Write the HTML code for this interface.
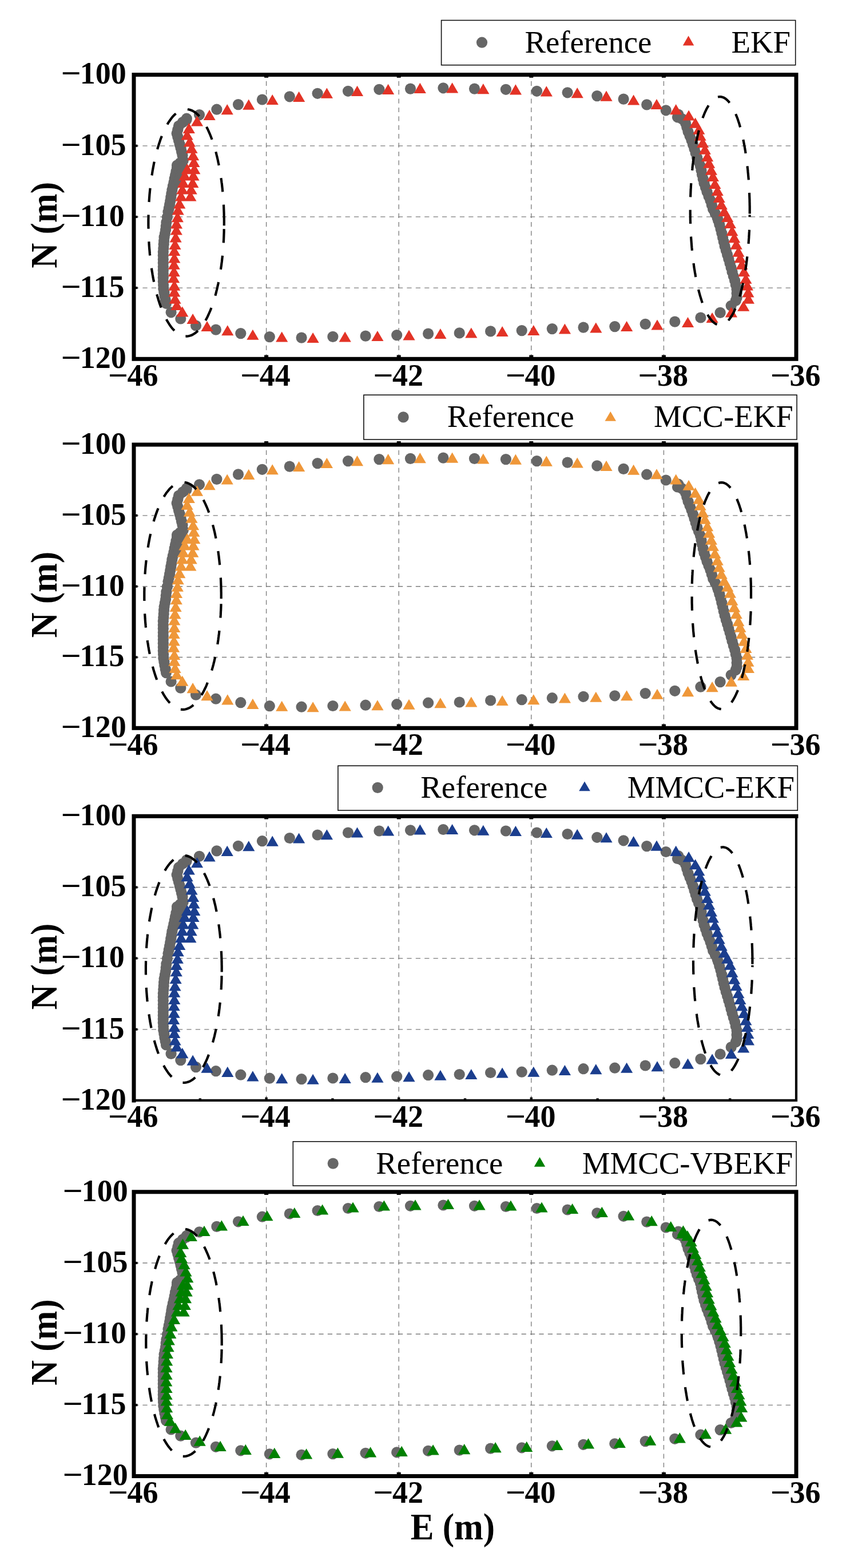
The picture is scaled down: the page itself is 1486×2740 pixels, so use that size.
<!DOCTYPE html>
<html><head><meta charset="utf-8"><title>Trajectory comparison</title><style>html,body{margin:0;padding:0;background:#fff;}svg{display:block;}</style></head><body>
<svg width="1486" height="2740" viewBox="0 0 1486 2740">
<rect width="1486" height="2740" fill="#fff"/>
<path d="M465.6 627.3V130.6M697.2 627.3V130.6M928.8 627.3V130.6M1160.4 627.3V130.6" stroke="#7d7d7d" stroke-width="1.35" stroke-dasharray="8.2 7.2" fill="none"/>
<path d="M234.0 254.8H1392.0M234.0 378.9H1392.0M234.0 503.1H1392.0" stroke="#7d7d7d" stroke-width="1.35" stroke-dasharray="8.2 7.2" fill="none"/>
<g fill="#666666"><circle cx="325.8" cy="209.8" r="9.6"/><circle cx="348.5" cy="200.6" r="9.6"/><circle cx="378.9" cy="191.2" r="9.6"/><circle cx="416.5" cy="182.6" r="9.6"/><circle cx="458.4" cy="174.0" r="9.6"/><circle cx="506.3" cy="168.8" r="9.6"/><circle cx="555.1" cy="163.3" r="9.6"/><circle cx="608.5" cy="159.3" r="9.6"/><circle cx="662.9" cy="156.3" r="9.6"/><circle cx="717.5" cy="155.1" r="9.6"/><circle cx="774.9" cy="153.8" r="9.6"/><circle cx="829.5" cy="155.1" r="9.6"/><circle cx="884.4" cy="156.3" r="9.6"/><circle cx="938.5" cy="159.3" r="9.6"/><circle cx="992.1" cy="161.8" r="9.6"/><circle cx="1043.8" cy="167.6" r="9.6"/><circle cx="1090.1" cy="173.1" r="9.6"/><circle cx="1130.7" cy="182.9" r="9.6"/><circle cx="1164.2" cy="192.8" r="9.6"/><circle cx="1184.5" cy="204.8" r="9.6"/><circle cx="1185.9" cy="200.0" r="9.6"/><circle cx="1192.2" cy="207.6" r="9.6"/><circle cx="1198.5" cy="215.1" r="9.6"/><circle cx="1200.8" cy="222.6" r="9.6"/><circle cx="1203.0" cy="230.1" r="9.6"/><circle cx="1206.0" cy="237.6" r="9.6"/><circle cx="1209.0" cy="245.1" r="9.6"/><circle cx="1211.5" cy="252.6" r="9.6"/><circle cx="1214.0" cy="260.2" r="9.6"/><circle cx="1216.2" cy="267.7" r="9.6"/><circle cx="1218.5" cy="275.2" r="9.6"/><circle cx="1221.5" cy="282.7" r="9.6"/><circle cx="1224.5" cy="290.2" r="9.6"/><circle cx="1226.0" cy="297.8" r="9.6"/><circle cx="1227.5" cy="305.3" r="9.6"/><circle cx="1229.2" cy="312.8" r="9.6"/><circle cx="1231.0" cy="320.3" r="9.6"/><circle cx="1233.5" cy="327.8" r="9.6"/><circle cx="1236.0" cy="335.3" r="9.6"/><circle cx="1239.0" cy="342.9" r="9.6"/><circle cx="1242.0" cy="350.4" r="9.6"/><circle cx="1244.3" cy="357.9" r="9.6"/><circle cx="1246.6" cy="365.4" r="9.6"/><circle cx="1250.3" cy="372.9" r="9.6"/><circle cx="1254.1" cy="380.4" r="9.6"/><circle cx="1255.5" cy="385.0" r="9.6"/><circle cx="1257.8" cy="392.5" r="9.6"/><circle cx="1260.0" cy="400.0" r="9.6"/><circle cx="1261.8" cy="407.6" r="9.6"/><circle cx="1263.6" cy="415.1" r="9.6"/><circle cx="1265.3" cy="422.6" r="9.6"/><circle cx="1267.1" cy="430.1" r="9.6"/><circle cx="1269.3" cy="437.6" r="9.6"/><circle cx="1271.6" cy="445.1" r="9.6"/><circle cx="1273.8" cy="452.6" r="9.6"/><circle cx="1276.1" cy="460.2" r="9.6"/><circle cx="1278.1" cy="467.7" r="9.6"/><circle cx="1280.1" cy="475.2" r="9.6"/><circle cx="1282.3" cy="482.7" r="9.6"/><circle cx="1284.6" cy="490.2" r="9.6"/><circle cx="1286.3" cy="497.8" r="9.6"/><circle cx="1288.1" cy="505.3" r="9.6"/><circle cx="1288.1" cy="512.8" r="9.6"/><circle cx="1288.1" cy="520.3" r="9.6"/><circle cx="1286.3" cy="525.3" r="9.6"/><circle cx="1278.2" cy="534.3" r="9.6"/><circle cx="1259.1" cy="546.4" r="9.6"/><circle cx="1224.9" cy="555.0" r="9.6"/><circle cx="1179.8" cy="562.1" r="9.6"/><circle cx="1128.2" cy="566.4" r="9.6"/><circle cx="1074.8" cy="570.6" r="9.6"/><circle cx="1020.0" cy="572.1" r="9.6"/><circle cx="965.3" cy="574.6" r="9.6"/><circle cx="912.2" cy="577.6" r="9.6"/><circle cx="857.6" cy="578.9" r="9.6"/><circle cx="803.2" cy="581.9" r="9.6"/><circle cx="748.6" cy="583.1" r="9.6"/><circle cx="693.7" cy="585.6" r="9.6"/><circle cx="639.1" cy="587.1" r="9.6"/><circle cx="581.9" cy="588.4" r="9.6"/><circle cx="527.1" cy="590.1" r="9.6"/><circle cx="471.3" cy="588.6" r="9.6"/><circle cx="420.8" cy="582.6" r="9.6"/><circle cx="377.4" cy="576.1" r="9.6"/><circle cx="342.5" cy="569.0" r="9.6"/><circle cx="315.8" cy="557.0" r="9.6"/><circle cx="299.1" cy="545.8" r="9.6"/><circle cx="290.5" cy="530.3" r="9.6"/><circle cx="289.2" cy="523.9" r="9.6"/><circle cx="287.9" cy="517.5" r="9.6"/><circle cx="286.9" cy="511.1" r="9.6"/><circle cx="285.8" cy="504.6" r="9.6"/><circle cx="285.6" cy="498.1" r="9.6"/><circle cx="285.3" cy="491.7" r="9.6"/><circle cx="285.3" cy="485.2" r="9.6"/><circle cx="285.3" cy="478.8" r="9.6"/><circle cx="285.3" cy="472.4" r="9.6"/><circle cx="285.3" cy="466.0" r="9.6"/><circle cx="285.3" cy="459.5" r="9.6"/><circle cx="285.3" cy="453.0" r="9.6"/><circle cx="285.3" cy="446.6" r="9.6"/><circle cx="285.3" cy="440.1" r="9.6"/><circle cx="285.8" cy="433.7" r="9.6"/><circle cx="286.2" cy="427.3" r="9.6"/><circle cx="286.6" cy="420.9" r="9.6"/><circle cx="287.1" cy="414.4" r="9.6"/><circle cx="288.4" cy="408.0" r="9.6"/><circle cx="289.6" cy="401.5" r="9.6"/><circle cx="290.2" cy="395.1" r="9.6"/><circle cx="290.9" cy="388.6" r="9.6"/><circle cx="292.4" cy="379.5" r="9.6"/><circle cx="294.0" cy="370.4" r="9.6"/><circle cx="295.3" cy="363.9" r="9.6"/><circle cx="296.6" cy="357.5" r="9.6"/><circle cx="297.7" cy="351.1" r="9.6"/><circle cx="298.8" cy="344.6" r="9.6"/><circle cx="299.9" cy="338.2" r="9.6"/><circle cx="300.9" cy="331.8" r="9.6"/><circle cx="302.4" cy="325.4" r="9.6"/><circle cx="303.9" cy="318.9" r="9.6"/><circle cx="305.2" cy="312.4" r="9.6"/><circle cx="306.5" cy="306.0" r="9.6"/><circle cx="308.0" cy="299.5" r="9.6"/><circle cx="309.5" cy="293.0" r="9.6"/><circle cx="309.5" cy="288.8" r="9.6"/><circle cx="314.9" cy="284.5" r="9.6"/><circle cx="320.3" cy="280.2" r="9.6"/><circle cx="319.0" cy="271.6" r="9.6"/><circle cx="317.5" cy="265.1" r="9.6"/><circle cx="316.0" cy="258.7" r="9.6"/><circle cx="314.2" cy="252.2" r="9.6"/><circle cx="312.5" cy="245.8" r="9.6"/><circle cx="310.8" cy="239.4" r="9.6"/><circle cx="309.1" cy="233.0" r="9.6"/><circle cx="310.8" cy="226.5" r="9.6"/><circle cx="312.5" cy="220.0" r="9.6"/><circle cx="319.4" cy="213.6" r="9.6"/><circle cx="326.3" cy="207.2" r="9.6"/><circle cx="319.5" cy="292.0" r="9.6"/><circle cx="318.0" cy="298.0" r="9.6"/><circle cx="316.5" cy="304.0" r="9.6"/><circle cx="314.8" cy="310.0" r="9.6"/><circle cx="313.0" cy="316.0" r="9.6"/></g>
<path d="M333.9 220.6L344.5 202.4L355.1 220.6ZM355.5 210.0L366.1 191.8L376.7 210.0ZM386.6 200.2L397.2 182.1L407.8 200.2ZM424.2 191.7L434.8 173.5L445.4 191.7ZM465.6 183.1L476.2 164.9L486.8 183.1ZM512.0 177.9L522.6 159.8L533.2 177.9ZM560.8 171.7L571.4 153.5L582.0 171.7ZM613.9 167.9L624.5 149.8L635.1 167.9ZM668.0 164.9L678.6 146.8L689.2 164.9ZM723.7 162.9L734.3 144.8L744.9 162.9ZM780.0 162.4L790.6 144.2L801.2 162.4ZM834.2 164.2L844.8 146.0L855.4 164.2ZM890.8 165.4L901.4 147.2L912.0 165.4ZM944.7 168.4L955.3 150.2L965.9 168.4ZM998.6 171.2L1009.2 153.0L1019.8 171.2ZM1049.4 176.7L1060.0 158.5L1070.6 176.7ZM1097.0 183.6L1107.6 165.4L1118.2 183.6ZM1137.4 191.1L1148.0 172.9L1158.6 191.1ZM1171.1 200.2L1181.7 182.1L1192.3 200.2ZM1193.5 210.6L1204.1 192.4L1214.7 210.6ZM1205.0 223.7L1215.6 205.5L1226.2 223.7ZM1211.2 234.7L1221.8 216.5L1232.4 234.7ZM1213.5 245.7L1224.1 227.5L1234.7 245.7ZM1218.0 258.1L1228.6 240.0L1239.2 258.1ZM1221.7 269.8L1232.3 251.6L1242.9 269.8ZM1226.0 282.2L1236.6 264.1L1247.2 282.2ZM1229.0 293.8L1239.6 275.6L1250.2 293.8ZM1232.8 305.8L1243.4 287.6L1254.0 305.8ZM1235.8 316.9L1246.4 298.8L1257.0 316.9ZM1239.3 329.9L1249.9 311.8L1260.5 329.9ZM1243.6 341.9L1254.2 323.8L1264.8 341.9ZM1246.6 353.9L1257.2 335.8L1267.8 353.9ZM1250.6 365.9L1261.2 347.8L1271.8 365.9ZM1255.6 377.9L1266.2 359.8L1276.8 377.9ZM1261.1 388.1L1271.7 369.9L1282.3 388.1ZM1265.8 399.1L1276.4 380.9L1287.0 399.1ZM1269.3 412.2L1279.9 394.1L1290.5 412.2ZM1273.1 424.2L1283.7 406.1L1294.3 424.2ZM1276.6 435.7L1287.2 417.6L1297.8 435.7ZM1280.3 448.7L1290.9 430.6L1301.5 448.7ZM1283.3 459.3L1293.9 441.2L1304.5 459.3ZM1286.3 470.8L1296.9 452.7L1307.5 470.8ZM1290.1 483.3L1300.7 465.2L1311.3 483.3ZM1293.3 495.8L1303.9 477.7L1314.5 495.8ZM1295.8 507.4L1306.4 489.3L1317.0 507.4ZM1297.3 519.4L1307.9 501.3L1318.5 519.4ZM1297.8 530.8L1308.4 512.8L1319.0 530.8ZM1289.1 543.8L1299.7 525.8L1310.3 543.8ZM1267.8 554.4L1278.4 536.4L1289.0 554.4ZM1234.5 563.9L1245.1 545.9L1255.7 563.9ZM1191.9 572.0L1202.5 554.0L1213.1 572.0ZM1138.4 576.6L1149.0 558.6L1159.6 576.6ZM1085.0 579.1L1095.6 561.1L1106.2 579.1ZM1031.2 581.6L1041.8 563.6L1052.4 581.6ZM976.8 583.4L987.4 565.4L998.0 583.4ZM922.2 586.1L932.8 568.1L943.4 586.1ZM867.5 587.9L878.1 569.9L888.7 587.9ZM813.2 590.4L823.8 572.4L834.4 590.4ZM759.3 592.1L769.9 574.1L780.5 592.1ZM704.4 594.6L715.0 576.6L725.6 594.6ZM649.3 596.1L659.9 578.1L670.5 596.1ZM592.6 597.4L603.2 579.4L613.8 597.4ZM536.5 599.1L547.1 581.1L557.7 599.1ZM482.1 597.6L492.7 579.6L503.3 597.6ZM431.3 593.8L441.9 575.7L452.5 593.8ZM387.2 586.2L397.8 568.2L408.4 586.2ZM351.4 579.0L362.0 561.0L372.6 579.0ZM326.5 566.0L337.1 548.0L347.7 566.0ZM308.2 553.5L318.8 535.5L329.4 553.5ZM298.4 541.9L309.0 523.9L319.6 541.9ZM295.5 530.8L306.1 512.8L316.7 530.8ZM294.2 518.4L304.8 500.3L315.4 518.4ZM294.2 507.7L304.8 489.6L315.4 507.7ZM293.0 494.3L303.6 476.2L314.2 494.3ZM293.6 483.2L304.2 465.1L314.8 483.2ZM293.6 470.7L304.2 452.6L314.8 470.7ZM294.2 459.4L304.8 441.3L315.4 459.4ZM294.2 447.1L304.8 428.9L315.4 447.1ZM295.4 435.9L306.0 417.8L316.6 435.9ZM296.5 423.4L307.1 405.3L317.7 423.4ZM297.7 410.6L308.3 392.4L318.9 410.6ZM297.9 399.4L308.5 381.3L319.1 399.4ZM299.7 388.2L310.3 370.1L320.9 388.2ZM300.6 375.6L311.2 357.4L321.8 375.6ZM303.2 364.4L313.8 346.3L324.4 364.4ZM306.0 351.6L316.6 333.4L327.2 351.6ZM308.1 339.6L318.7 321.4L329.3 339.6ZM309.8 327.9L320.4 309.8L331.0 327.9ZM312.4 315.4L323.0 297.3L333.6 315.4ZM316.7 304.2L327.3 286.1L337.9 304.2ZM322.3 351.6L332.9 333.4L343.5 351.6ZM323.6 339.6L334.2 321.4L344.8 339.6ZM326.2 327.9L336.8 309.8L347.4 327.9ZM327.4 315.4L338.0 297.3L348.6 315.4ZM329.2 304.2L339.8 286.1L350.4 304.2ZM328.3 291.9L338.9 273.8L349.5 291.9ZM327.0 280.2L337.6 262.1L348.2 280.2ZM324.4 267.8L335.0 249.6L345.6 267.8ZM320.8 256.6L331.4 238.5L342.0 256.6ZM316.5 244.6L327.1 226.4L337.7 244.6ZM319.7 233.0L330.3 214.8L340.9 233.0Z" fill="#E33326"/>
<path d="M391.8 394.3L391.8 391.7L391.8 389.1L391.8 386.4L391.8 383.8L391.7 381.2L391.7 378.6L391.6 376.0L391.6 373.3L391.5 370.7L391.4 368.1L391.3 365.5L391.2 362.9L391.1 360.2L391.0 357.6M389.3 335.3L389.0 332.6L388.8 329.9L388.5 327.2L388.2 324.5L387.9 321.8L387.5 319.1L387.2 316.5L386.8 313.8L386.4 311.1M382.7 289.0L382.2 286.4L381.6 283.7L381.1 281.1L380.5 278.4L379.9 275.8L379.3 273.2L378.6 270.5L378.0 267.9L377.3 265.3M370.6 243.9L369.7 241.4L368.7 238.8L367.7 236.3L366.7 233.8L365.6 231.3L364.5 228.9L363.4 226.4L362.2 224.0L361.0 221.6M348.4 203.1L346.6 201.1L344.6 199.3L342.5 197.5L340.4 195.9L338.1 194.5L335.7 193.2L333.2 192.2L330.6 191.5L327.9 191.0M307.5 198.5L305.4 200.3L303.5 202.2L301.7 204.2L300.0 206.3L298.4 208.5L296.8 210.7L295.3 212.9L293.8 215.2L292.5 217.5M282.9 237.8L281.9 240.3L280.9 242.8L280.0 245.4L279.2 247.9L278.3 250.5L277.5 253.1L276.7 255.7L275.9 258.2L275.1 260.8M269.8 282.6L269.2 285.2L268.7 287.9L268.2 290.5L267.7 293.2L267.2 295.9L266.7 298.5L266.3 301.2L265.9 303.9L265.4 306.5M262.6 328.8L262.3 331.4L262.0 334.1L261.8 336.8L261.5 339.5L261.3 342.2L261.1 344.9L260.9 347.6L260.7 350.3L260.5 353.0M259.6 375.4L259.5 378.1L259.5 380.8L259.4 383.5L259.4 386.2L259.4 388.9L259.4 391.6L259.4 394.3L259.5 397.0L259.5 399.7M260.3 422.1L260.5 424.8L260.6 427.5L260.8 430.2L261.0 432.9L261.2 435.6L261.5 438.3L261.7 441.0L261.9 443.7L262.2 446.4M264.9 468.6L265.3 471.3L265.7 474.0L266.2 476.7L266.6 479.3L267.1 482.0L267.5 484.7L268.0 487.3L268.6 490.0L269.1 492.6M274.2 514.4L274.9 517.0L275.7 519.6L276.5 522.2L277.2 524.8L278.1 527.4L278.9 530.0L279.8 532.5L280.7 535.1L281.6 537.6M290.8 558.0L292.1 560.4L293.5 562.7L294.9 565.0L296.4 567.3L297.9 569.5L299.5 571.7L301.2 573.8L303.0 575.8L304.9 577.8M324.4 587.7L327.1 587.6L329.8 587.3L332.5 586.6L335.0 585.7L337.4 584.5L339.7 583.1L341.9 581.6L344.0 579.8L346.0 578.0M359.3 560.1L360.6 557.7L361.9 555.3L363.1 552.9L364.2 550.4L365.3 548.0L366.4 545.5L367.5 543.0L368.5 540.5L369.4 537.9M376.4 516.7L377.1 514.0L377.8 511.4L378.4 508.8L379.1 506.2L379.7 503.5L380.3 500.9L380.9 498.3L381.5 495.6L382.0 493.0M385.9 470.9L386.3 468.2L386.7 465.6L387.1 462.9L387.4 460.2L387.8 457.5L388.1 454.8L388.4 452.1L388.7 449.5L389.0 446.8M390.8 424.4L390.9 421.7L391.1 419.0L391.2 416.3L391.3 413.6L391.4 410.9L391.5 408.2L391.6 405.5L391.6 402.8L391.7 400.1" fill="none" stroke="#000" stroke-width="4.2"/>
<path d="M1310.7 373.5L1310.7 370.9L1310.7 368.3L1310.7 365.6L1310.7 363.0L1310.7 360.4L1310.6 357.8L1310.6 355.2L1310.5 352.5L1310.5 349.9L1310.4 347.3L1310.3 344.7L1310.2 342.0L1310.1 339.4L1310.0 336.8M1308.8 314.4L1308.6 311.7L1308.3 309.1L1308.1 306.4L1307.9 303.7L1307.6 301.0L1307.4 298.3L1307.1 295.6L1306.8 292.9L1306.5 290.2M1303.6 268.0L1303.2 265.3L1302.8 262.6L1302.3 260.0L1301.9 257.3L1301.4 254.6L1300.9 252.0L1300.4 249.3L1299.9 246.7L1299.3 244.0M1294.1 222.3L1293.3 219.7L1292.6 217.1L1291.8 214.5L1290.9 211.9L1290.1 209.3L1289.2 206.8L1288.2 204.3L1287.2 201.7L1286.2 199.2M1275.5 179.6L1273.8 177.5L1271.9 175.6L1269.9 173.7L1267.8 172.1L1265.5 170.7L1263.0 169.7L1260.3 169.1L1257.6 169.0L1255.0 169.5M1238.7 184.3L1237.4 186.6L1236.0 188.9L1234.8 191.3L1233.6 193.8L1232.5 196.2L1231.4 198.7L1230.4 201.2L1229.4 203.7L1228.4 206.3M1221.9 227.7L1221.2 230.3L1220.6 232.9L1219.9 235.6L1219.3 238.2L1218.7 240.8L1218.2 243.5L1217.6 246.1L1217.1 248.8L1216.6 251.5M1213.0 273.6L1212.6 276.2L1212.2 278.9L1211.9 281.6L1211.6 284.3L1211.2 287.0L1210.9 289.7L1210.6 292.3L1210.4 295.0L1210.1 297.7M1208.3 320.1L1208.1 322.8L1207.9 325.5L1207.8 328.2L1207.6 330.9L1207.5 333.6L1207.4 336.3L1207.3 339.0L1207.2 341.7L1207.1 344.4M1206.7 366.8L1206.7 369.5L1206.7 372.2L1206.7 374.9L1206.8 377.6L1206.8 380.3L1206.8 383.0L1206.9 385.7L1207.0 388.4L1207.0 391.1M1208.0 413.5L1208.2 416.2L1208.4 418.9L1208.6 421.6L1208.8 424.3L1209.0 427.0L1209.2 429.7L1209.4 432.4L1209.7 435.1L1209.9 437.8M1212.5 460.0L1212.9 462.7L1213.2 465.4L1213.6 468.1L1214.0 470.7L1214.5 473.4L1214.9 476.1L1215.4 478.7L1215.8 481.4L1216.3 484.1M1221.0 506.0L1221.7 508.6L1222.4 511.2L1223.1 513.8L1223.8 516.4L1224.6 519.0L1225.4 521.6L1226.2 524.2L1227.0 526.7L1227.9 529.3M1237.0 549.8L1238.4 552.1L1239.8 554.4L1241.4 556.6L1243.0 558.7L1244.8 560.8L1246.7 562.7L1248.8 564.4L1251.1 565.9L1253.5 567.0M1273.3 560.0L1275.0 558.0L1276.6 555.8L1278.1 553.5L1279.6 551.2L1280.9 548.9L1282.2 546.5L1283.4 544.1L1284.5 541.6L1285.6 539.2M1293.1 518.1L1293.9 515.5L1294.6 512.9L1295.3 510.2L1296.0 507.6L1296.6 505.0L1297.3 502.4L1297.9 499.7L1298.5 497.1L1299.0 494.5M1303.1 472.4L1303.5 469.8L1303.9 467.1L1304.3 464.4L1304.7 461.7L1305.0 459.0L1305.4 456.4L1305.7 453.7L1306.0 451.0L1306.4 448.3M1308.5 426.0L1308.7 423.3L1308.9 420.6L1309.1 417.9L1309.3 415.2L1309.4 412.5L1309.6 409.8L1309.7 407.1L1309.9 404.4L1310.0 401.7M1310.6 379.3L1310.6 377.4L1310.7 375.5" fill="none" stroke="#000" stroke-width="4.2"/>
<rect x="234.0" y="130.6" width="1158.0" height="496.7" fill="none" stroke="#000" stroke-width="7"/>
<path d="M465.6 624.3V620.6M697.2 624.3V620.6M928.8 624.3V620.6M1160.4 624.3V620.6" stroke="#000" stroke-width="7.0" fill="none"/>
<path d="M465.6 133.6V135.8M697.2 133.6V135.8M928.8 133.6V135.8M1160.4 133.6V135.8" stroke="#000" stroke-width="7" fill="none"/>
<path d="M237.0 254.8h3.5M237.0 378.9h3.5M237.0 503.1h3.5" stroke="#000" stroke-width="4" fill="none"/>
<g font-family="'Liberation Serif','Times New Roman',serif" font-weight="bold" font-size="54.0" fill="#000"><text x="139.66" y="146.4">100</text><text transform="translate(106.49 146.4) scale(1.15 1)">−</text><text x="139.58" y="270.6">105</text><text transform="translate(106.41 270.6) scale(1.15 1)">−</text><text x="139.66" y="394.7">110</text><text transform="translate(106.49 394.7) scale(1.15 1)">−</text><text x="139.58" y="518.9">115</text><text transform="translate(106.41 518.9) scale(1.15 1)">−</text><text x="139.66" y="643.1">120</text><text transform="translate(106.49 643.1) scale(1.15 1)">−</text><text x="222.43" y="673.7">46</text><text transform="translate(188.66 673.7) scale(1.15 1)">−</text><text x="453.74" y="673.7">44</text><text transform="translate(419.97 673.7) scale(1.15 1)">−</text><text x="686.00" y="673.7">42</text><text transform="translate(652.23 673.7) scale(1.15 1)">−</text><text x="917.47" y="673.7">40</text><text transform="translate(883.70 673.7) scale(1.15 1)">−</text><text x="1148.93" y="673.7">38</text><text transform="translate(1115.17 673.7) scale(1.15 1)">−</text><text x="1380.43" y="673.7">36</text><text transform="translate(1346.66 673.7) scale(1.15 1)">−</text></g>
<text transform="translate(98.7 393.4) rotate(-90) scale(1 1.07)" text-anchor="middle" font-family="'Liberation Serif','Times New Roman',serif" font-weight="bold" font-size="61" fill="#000">N (m)</text>
<rect x="771.6" y="35.5" width="619.1" height="78.2" fill="#fff" stroke="#111" stroke-width="1.6"/>
<circle cx="842.5" cy="74.2" r="9.6" fill="#666666"/>
<path d="M1193.8 79.4L1203.6 62.6L1213.3 79.4Z" fill="#E33326"/>
<g font-family="'Liberation Serif','Times New Roman',serif" font-size="54.8" fill="#000"><text x="917.4" y="91.5">Reference</text><text x="1278.5" y="91.5">EKF</text></g>
<path d="M465.6 1272.3V777.0M697.2 1272.3V777.0M928.8 1272.3V777.0M1160.4 1272.3V777.0" stroke="#7d7d7d" stroke-width="1.35" stroke-dasharray="8.2 7.2" fill="none"/>
<path d="M234.0 900.8H1392.0M234.0 1024.7H1392.0M234.0 1148.5H1392.0" stroke="#7d7d7d" stroke-width="1.35" stroke-dasharray="8.2 7.2" fill="none"/>
<g fill="#666666"><circle cx="325.8" cy="856.0" r="9.6"/><circle cx="348.5" cy="846.8" r="9.6"/><circle cx="378.9" cy="837.4" r="9.6"/><circle cx="416.5" cy="828.9" r="9.6"/><circle cx="458.4" cy="820.3" r="9.6"/><circle cx="506.3" cy="815.1" r="9.6"/><circle cx="555.1" cy="809.6" r="9.6"/><circle cx="608.5" cy="805.6" r="9.6"/><circle cx="662.9" cy="802.6" r="9.6"/><circle cx="717.5" cy="801.4" r="9.6"/><circle cx="774.9" cy="800.1" r="9.6"/><circle cx="829.5" cy="801.4" r="9.6"/><circle cx="884.4" cy="802.6" r="9.6"/><circle cx="938.5" cy="805.6" r="9.6"/><circle cx="992.1" cy="808.1" r="9.6"/><circle cx="1043.8" cy="813.9" r="9.6"/><circle cx="1090.1" cy="819.4" r="9.6"/><circle cx="1130.7" cy="829.2" r="9.6"/><circle cx="1164.2" cy="839.0" r="9.6"/><circle cx="1184.5" cy="851.0" r="9.6"/><circle cx="1185.9" cy="846.2" r="9.6"/><circle cx="1192.2" cy="853.7" r="9.6"/><circle cx="1198.5" cy="861.3" r="9.6"/><circle cx="1200.8" cy="868.7" r="9.6"/><circle cx="1203.0" cy="876.2" r="9.6"/><circle cx="1206.0" cy="883.7" r="9.6"/><circle cx="1209.0" cy="891.2" r="9.6"/><circle cx="1211.5" cy="898.7" r="9.6"/><circle cx="1214.0" cy="906.2" r="9.6"/><circle cx="1216.2" cy="913.7" r="9.6"/><circle cx="1218.5" cy="921.2" r="9.6"/><circle cx="1221.5" cy="928.7" r="9.6"/><circle cx="1224.5" cy="936.2" r="9.6"/><circle cx="1226.0" cy="943.7" r="9.6"/><circle cx="1227.5" cy="951.2" r="9.6"/><circle cx="1229.2" cy="958.7" r="9.6"/><circle cx="1231.0" cy="966.2" r="9.6"/><circle cx="1233.5" cy="973.6" r="9.6"/><circle cx="1236.0" cy="981.1" r="9.6"/><circle cx="1239.0" cy="988.7" r="9.6"/><circle cx="1242.0" cy="996.2" r="9.6"/><circle cx="1244.3" cy="1003.7" r="9.6"/><circle cx="1246.6" cy="1011.1" r="9.6"/><circle cx="1250.3" cy="1018.6" r="9.6"/><circle cx="1254.1" cy="1026.1" r="9.6"/><circle cx="1255.5" cy="1030.7" r="9.6"/><circle cx="1257.8" cy="1038.2" r="9.6"/><circle cx="1260.0" cy="1045.6" r="9.6"/><circle cx="1261.8" cy="1053.2" r="9.6"/><circle cx="1263.6" cy="1060.7" r="9.6"/><circle cx="1265.3" cy="1068.2" r="9.6"/><circle cx="1267.1" cy="1075.7" r="9.6"/><circle cx="1269.3" cy="1083.1" r="9.6"/><circle cx="1271.6" cy="1090.6" r="9.6"/><circle cx="1273.8" cy="1098.1" r="9.6"/><circle cx="1276.1" cy="1105.7" r="9.6"/><circle cx="1278.1" cy="1113.1" r="9.6"/><circle cx="1280.1" cy="1120.6" r="9.6"/><circle cx="1282.3" cy="1128.1" r="9.6"/><circle cx="1284.6" cy="1135.6" r="9.6"/><circle cx="1286.3" cy="1143.1" r="9.6"/><circle cx="1288.1" cy="1150.6" r="9.6"/><circle cx="1288.1" cy="1158.1" r="9.6"/><circle cx="1288.1" cy="1165.6" r="9.6"/><circle cx="1286.3" cy="1170.6" r="9.6"/><circle cx="1278.2" cy="1179.6" r="9.6"/><circle cx="1259.1" cy="1191.6" r="9.6"/><circle cx="1224.9" cy="1200.2" r="9.6"/><circle cx="1179.8" cy="1207.3" r="9.6"/><circle cx="1128.2" cy="1211.6" r="9.6"/><circle cx="1074.8" cy="1215.8" r="9.6"/><circle cx="1020.0" cy="1217.3" r="9.6"/><circle cx="965.3" cy="1219.7" r="9.6"/><circle cx="912.2" cy="1222.7" r="9.6"/><circle cx="857.6" cy="1224.0" r="9.6"/><circle cx="803.2" cy="1227.0" r="9.6"/><circle cx="748.6" cy="1228.2" r="9.6"/><circle cx="693.7" cy="1230.7" r="9.6"/><circle cx="639.1" cy="1232.2" r="9.6"/><circle cx="581.9" cy="1233.5" r="9.6"/><circle cx="527.1" cy="1235.2" r="9.6"/><circle cx="471.3" cy="1233.7" r="9.6"/><circle cx="420.8" cy="1227.7" r="9.6"/><circle cx="377.4" cy="1221.2" r="9.6"/><circle cx="342.5" cy="1214.2" r="9.6"/><circle cx="315.8" cy="1202.2" r="9.6"/><circle cx="299.1" cy="1191.0" r="9.6"/><circle cx="290.5" cy="1175.6" r="9.6"/><circle cx="289.2" cy="1169.2" r="9.6"/><circle cx="287.9" cy="1162.8" r="9.6"/><circle cx="286.9" cy="1156.4" r="9.6"/><circle cx="285.8" cy="1149.9" r="9.6"/><circle cx="285.6" cy="1143.5" r="9.6"/><circle cx="285.3" cy="1137.1" r="9.6"/><circle cx="285.3" cy="1130.7" r="9.6"/><circle cx="285.3" cy="1124.2" r="9.6"/><circle cx="285.3" cy="1117.8" r="9.6"/><circle cx="285.3" cy="1111.5" r="9.6"/><circle cx="285.3" cy="1105.0" r="9.6"/><circle cx="285.3" cy="1098.5" r="9.6"/><circle cx="285.3" cy="1092.1" r="9.6"/><circle cx="285.3" cy="1085.6" r="9.6"/><circle cx="285.8" cy="1079.2" r="9.6"/><circle cx="286.2" cy="1072.9" r="9.6"/><circle cx="286.6" cy="1066.4" r="9.6"/><circle cx="287.1" cy="1060.0" r="9.6"/><circle cx="288.4" cy="1053.6" r="9.6"/><circle cx="289.6" cy="1047.1" r="9.6"/><circle cx="290.2" cy="1040.7" r="9.6"/><circle cx="290.9" cy="1034.3" r="9.6"/><circle cx="292.4" cy="1025.2" r="9.6"/><circle cx="294.0" cy="1016.1" r="9.6"/><circle cx="295.3" cy="1009.7" r="9.6"/><circle cx="296.6" cy="1003.3" r="9.6"/><circle cx="297.7" cy="996.8" r="9.6"/><circle cx="298.8" cy="990.4" r="9.6"/><circle cx="299.9" cy="984.0" r="9.6"/><circle cx="300.9" cy="977.6" r="9.6"/><circle cx="302.4" cy="971.2" r="9.6"/><circle cx="303.9" cy="964.8" r="9.6"/><circle cx="305.2" cy="958.3" r="9.6"/><circle cx="306.5" cy="951.9" r="9.6"/><circle cx="308.0" cy="945.4" r="9.6"/><circle cx="309.5" cy="938.9" r="9.6"/><circle cx="309.5" cy="934.8" r="9.6"/><circle cx="314.9" cy="930.5" r="9.6"/><circle cx="320.3" cy="926.2" r="9.6"/><circle cx="319.0" cy="917.6" r="9.6"/><circle cx="317.5" cy="911.2" r="9.6"/><circle cx="316.0" cy="904.7" r="9.6"/><circle cx="314.2" cy="898.3" r="9.6"/><circle cx="312.5" cy="891.9" r="9.6"/><circle cx="310.8" cy="885.5" r="9.6"/><circle cx="309.1" cy="879.1" r="9.6"/><circle cx="310.8" cy="872.6" r="9.6"/><circle cx="312.5" cy="866.1" r="9.6"/><circle cx="319.4" cy="859.8" r="9.6"/><circle cx="326.3" cy="853.4" r="9.6"/><circle cx="319.5" cy="937.9" r="9.6"/><circle cx="318.0" cy="943.9" r="9.6"/><circle cx="316.5" cy="949.9" r="9.6"/><circle cx="314.8" cy="955.9" r="9.6"/><circle cx="313.0" cy="961.9" r="9.6"/></g>
<path d="M333.9 866.7L344.5 848.6L355.1 866.7ZM355.5 856.2L366.1 838.1L376.7 856.2ZM386.6 846.5L397.2 828.4L407.8 846.5ZM424.2 837.9L434.8 819.8L445.4 837.9ZM465.6 829.3L476.2 811.2L486.8 829.3ZM512.0 824.1L522.6 806.0L533.2 824.1ZM560.8 818.0L571.4 799.9L582.0 818.0ZM613.9 814.2L624.5 796.1L635.1 814.2ZM668.0 811.2L678.6 793.1L689.2 811.2ZM723.7 809.2L734.3 791.1L744.9 809.2ZM780.0 808.7L790.6 790.6L801.2 808.7ZM834.2 810.5L844.8 792.4L855.4 810.5ZM890.8 811.7L901.4 793.6L912.0 811.7ZM944.7 814.7L955.3 796.6L965.9 814.7ZM998.6 817.5L1009.2 799.4L1019.8 817.5ZM1049.4 822.9L1060.0 804.8L1070.6 822.9ZM1097.0 829.8L1107.6 811.7L1118.2 829.8ZM1137.4 837.3L1148.0 819.2L1158.6 837.3ZM1171.1 846.5L1181.7 828.4L1192.3 846.5ZM1193.5 856.8L1204.1 838.7L1214.7 856.8ZM1205.0 869.8L1215.6 851.7L1226.2 869.8ZM1211.2 880.8L1221.8 862.7L1232.4 880.8ZM1213.5 891.8L1224.1 873.7L1234.7 891.8ZM1218.0 904.2L1228.6 886.1L1239.2 904.2ZM1221.7 915.8L1232.3 897.7L1242.9 915.8ZM1226.0 928.2L1236.6 910.1L1247.2 928.2ZM1229.0 939.7L1239.6 921.6L1250.2 939.7ZM1232.8 951.7L1243.4 933.6L1254.0 951.7ZM1235.8 962.8L1246.4 944.7L1257.0 962.8ZM1239.3 975.7L1249.9 957.6L1260.5 975.7ZM1243.6 987.7L1254.2 969.6L1264.8 987.7ZM1246.6 999.6L1257.2 981.5L1267.8 999.6ZM1250.6 1011.7L1261.2 993.6L1271.8 1011.7ZM1255.6 1023.7L1266.2 1005.6L1276.8 1023.7ZM1261.1 1033.7L1271.7 1015.6L1282.3 1033.7ZM1265.8 1044.7L1276.4 1026.6L1287.0 1044.7ZM1269.3 1057.8L1279.9 1039.7L1290.5 1057.8ZM1273.1 1069.7L1283.7 1051.6L1294.3 1069.7ZM1276.6 1081.2L1287.2 1063.1L1297.8 1081.2ZM1280.3 1094.2L1290.9 1076.1L1301.5 1094.2ZM1283.3 1104.7L1293.9 1086.6L1304.5 1104.7ZM1286.3 1116.2L1296.9 1098.1L1307.5 1116.2ZM1290.1 1128.7L1300.7 1110.6L1311.3 1128.7ZM1293.3 1141.1L1303.9 1123.0L1314.5 1141.1ZM1295.8 1152.7L1306.4 1134.6L1317.0 1152.7ZM1297.3 1164.7L1307.9 1146.6L1318.5 1164.7ZM1297.8 1176.1L1308.4 1158.0L1319.0 1176.1ZM1289.1 1189.1L1299.7 1171.0L1310.3 1189.1ZM1267.8 1199.7L1278.4 1181.6L1289.0 1199.7ZM1234.5 1209.2L1245.1 1191.1L1255.7 1209.2ZM1191.9 1217.2L1202.5 1199.1L1213.1 1217.2ZM1138.4 1221.8L1149.0 1203.7L1159.6 1221.8ZM1085.0 1224.3L1095.6 1206.2L1106.2 1224.3ZM1031.2 1226.8L1041.8 1208.7L1052.4 1226.8ZM976.8 1228.6L987.4 1210.5L998.0 1228.6ZM922.2 1231.3L932.8 1213.2L943.4 1231.3ZM867.5 1233.1L878.1 1215.0L888.7 1233.1ZM813.2 1235.6L823.8 1217.5L834.4 1235.6ZM759.3 1237.3L769.9 1219.2L780.5 1237.3ZM704.4 1239.8L715.0 1221.7L725.6 1239.8ZM649.3 1241.3L659.9 1223.2L670.5 1241.3ZM592.6 1242.6L603.2 1224.5L613.8 1242.6ZM536.5 1244.3L547.1 1226.2L557.7 1244.3ZM482.1 1242.8L492.7 1224.7L503.3 1242.8ZM431.3 1238.9L441.9 1220.8L452.5 1238.9ZM387.2 1231.4L397.8 1213.3L408.4 1231.4ZM351.4 1224.2L362.0 1206.1L372.6 1224.2ZM326.5 1211.2L337.1 1193.1L347.7 1211.2ZM308.2 1198.8L318.8 1180.7L329.4 1198.8ZM298.4 1187.2L309.0 1169.1L319.6 1187.2ZM295.5 1176.1L306.1 1158.0L316.7 1176.1ZM294.2 1163.7L304.8 1145.6L315.4 1163.7ZM294.2 1153.0L304.8 1134.9L315.4 1153.0ZM293.0 1139.7L303.6 1121.6L314.2 1139.7ZM293.6 1128.6L304.2 1110.5L314.8 1128.6ZM293.6 1116.1L304.2 1098.0L314.8 1116.1ZM294.2 1104.9L304.8 1086.8L315.4 1104.9ZM294.2 1092.6L304.8 1074.5L315.4 1092.6ZM295.4 1081.4L306.0 1063.3L316.6 1081.4ZM296.5 1069.1L307.1 1051.0L317.7 1069.1ZM297.7 1056.2L308.3 1038.1L318.9 1056.2ZM297.9 1045.0L308.5 1026.9L319.1 1045.0ZM299.7 1033.8L310.3 1015.7L320.9 1033.8ZM300.6 1021.3L311.2 1003.2L321.8 1021.3ZM303.2 1010.2L313.8 992.1L324.4 1010.2ZM306.0 997.4L316.6 979.3L327.2 997.4ZM308.1 985.4L318.7 967.3L329.3 985.4ZM309.8 973.8L320.4 955.7L331.0 973.8ZM312.4 961.4L323.0 943.3L333.6 961.4ZM316.7 950.2L327.3 932.1L337.9 950.2ZM322.3 997.4L332.9 979.3L343.5 997.4ZM323.6 985.4L334.2 967.3L344.8 985.4ZM326.2 973.8L336.8 955.7L347.4 973.8ZM327.4 961.4L338.0 943.3L348.6 961.4ZM329.2 950.2L339.8 932.1L350.4 950.2ZM328.3 937.8L338.9 919.7L349.5 937.8ZM327.0 926.3L337.6 908.2L348.2 926.3ZM324.4 913.8L335.0 895.7L345.6 913.8ZM320.8 902.7L331.4 884.6L342.0 902.7ZM316.5 890.7L327.1 872.6L337.7 890.7ZM319.7 879.1L330.3 861.0L340.9 879.1Z" fill="#EF9739"/>
<path d="M386.7 1046.2L386.7 1043.6L386.7 1041.0L386.7 1038.3L386.7 1035.7L386.6 1033.1L386.6 1030.5L386.5 1027.9L386.5 1025.2L386.4 1022.6L386.3 1020.0L386.2 1017.4L386.1 1014.8L386.0 1012.1L385.8 1009.5M384.2 987.2L383.9 984.5L383.6 981.8L383.3 979.1L383.0 976.4L382.7 973.7L382.4 971.0L382.0 968.4L381.7 965.7L381.3 963.0M377.5 940.9L377.0 938.3L376.4 935.6L375.9 933.0L375.3 930.3L374.7 927.7L374.0 925.1L373.4 922.4L372.7 919.8L372.0 917.2M365.3 895.8L364.4 893.3L363.4 890.8L362.4 888.3L361.4 885.8L360.3 883.3L359.2 880.8L358.0 878.4L356.8 875.9L355.6 873.5M343.0 855.1L341.2 853.1L339.2 851.2L337.1 849.5L335.0 847.8L332.7 846.4L330.3 845.1L327.8 844.0L325.3 843.2L322.6 842.7M301.9 849.4L299.8 851.2L297.9 853.1L296.0 855.0L294.3 857.1L292.6 859.2L290.9 861.3L289.4 863.6L287.9 865.8L286.5 868.1M276.6 888.2L275.6 890.7L274.6 893.2L273.7 895.8L272.8 898.3L271.9 900.9L271.1 903.5L270.2 906.0L269.4 908.6L268.7 911.2M263.2 932.9L262.6 935.6L262.0 938.2L261.5 940.9L261.0 943.5L260.5 946.2L260.0 948.8L259.5 951.5L259.1 954.2L258.7 956.8M255.7 979.0L255.4 981.7L255.1 984.4L254.8 987.1L254.6 989.8L254.3 992.5L254.1 995.2L253.9 997.9L253.7 1000.6L253.5 1003.3M252.5 1025.7L252.4 1028.4L252.4 1031.1L252.3 1033.8L252.3 1036.5L252.3 1039.2L252.3 1041.9L252.3 1044.6L252.3 1047.3L252.4 1050.0M253.1 1072.4L253.3 1075.1L253.5 1077.8L253.6 1080.5L253.8 1083.2L254.0 1085.9L254.2 1088.6L254.5 1091.3L254.7 1094.0L255.0 1096.7M257.7 1118.9L258.0 1121.6L258.5 1124.3L258.9 1126.9L259.3 1129.6L259.8 1132.3L260.2 1134.9L260.7 1137.6L261.2 1140.3L261.8 1142.9M266.9 1164.7L267.6 1167.3L268.3 1169.9L269.1 1172.5L269.9 1175.1L270.7 1177.7L271.5 1180.3L272.4 1182.8L273.3 1185.4L274.2 1187.9M283.2 1208.4L284.5 1210.8L285.8 1213.2L287.2 1215.5L288.7 1217.8L290.2 1220.0L291.8 1222.2L293.4 1224.3L295.2 1226.4L297.0 1228.4M315.9 1239.6L318.6 1239.9L321.3 1239.8L324.0 1239.5L326.6 1238.8L329.1 1237.8L331.6 1236.7L333.9 1235.3L336.1 1233.7L338.2 1232.0M352.3 1214.7L353.6 1212.4L355.0 1210.0L356.2 1207.6L357.4 1205.2L358.6 1202.8L359.8 1200.3L360.9 1197.8L361.9 1195.3L362.9 1192.8M370.2 1171.6L370.9 1169.0L371.7 1166.4L372.4 1163.8L373.1 1161.2L373.7 1158.6L374.4 1156.0L375.0 1153.3L375.6 1150.7L376.2 1148.0M380.3 1126.0L380.7 1123.4L381.1 1120.7L381.5 1118.0L381.8 1115.3L382.2 1112.6L382.5 1110.0L382.9 1107.3L383.2 1104.6L383.5 1101.9M385.4 1079.6L385.6 1076.9L385.8 1074.2L385.9 1071.5L386.0 1068.8L386.2 1066.1L386.3 1063.4L386.4 1060.7L386.5 1058.0L386.5 1055.3" fill="none" stroke="#000" stroke-width="4.2"/>
<path d="M1313.0 1046.1L1313.0 1043.5L1313.0 1040.9L1313.0 1038.2L1313.0 1035.6L1313.0 1033.0L1313.0 1030.4L1312.9 1027.8L1312.9 1025.1L1312.8 1022.5L1312.8 1019.9L1312.7 1017.3L1312.6 1014.6L1312.5 1012.0L1312.4 1009.4M1311.1 987.0L1310.9 984.4L1310.7 981.7L1310.4 979.0L1310.2 976.3L1309.9 973.6L1309.7 970.9L1309.4 968.2L1309.1 965.5L1308.8 962.8M1305.9 940.6L1305.5 937.9L1305.0 935.3L1304.6 932.6L1304.1 929.9L1303.6 927.3L1303.1 924.6L1302.6 921.9L1302.1 919.3L1301.5 916.6M1296.2 894.9L1295.4 892.3L1294.7 889.7L1293.8 887.1L1293.0 884.6L1292.1 882.0L1291.2 879.5L1290.2 876.9L1289.2 874.4L1288.2 871.9M1277.1 852.5L1275.3 850.5L1273.4 848.6L1271.3 846.9L1269.1 845.3L1266.7 844.2L1264.1 843.4L1261.4 843.1L1258.7 843.4L1256.1 844.1M1240.6 859.7L1239.2 862.1L1237.9 864.4L1236.7 866.9L1235.6 869.3L1234.5 871.8L1233.4 874.3L1232.4 876.8L1231.5 879.3L1230.5 881.9M1224.1 903.3L1223.5 905.9L1222.9 908.6L1222.2 911.2L1221.7 913.8L1221.1 916.5L1220.5 919.1L1220.0 921.8L1219.5 924.5L1219.0 927.1M1215.5 949.2L1215.1 951.9L1214.8 954.6L1214.4 957.3L1214.1 960.0L1213.8 962.7L1213.5 965.3L1213.2 968.0L1212.9 970.7L1212.7 973.4M1210.9 995.7L1210.8 998.4L1210.6 1001.1L1210.5 1003.9L1210.3 1006.6L1210.2 1009.3L1210.1 1012.0L1210.0 1014.7L1209.9 1017.4L1209.8 1020.1M1209.6 1042.5L1209.6 1045.2L1209.6 1047.9L1209.6 1050.6L1209.6 1053.3L1209.7 1056.0L1209.8 1058.7L1209.8 1061.4L1209.9 1064.1L1210.0 1066.8M1211.1 1089.2L1211.3 1091.9L1211.5 1094.6L1211.7 1097.3L1211.9 1100.0L1212.1 1102.7L1212.4 1105.4L1212.6 1108.1L1212.9 1110.8L1213.1 1113.5M1215.8 1135.7L1216.2 1138.4L1216.6 1141.0L1217.0 1143.7L1217.5 1146.4L1217.9 1149.1L1218.4 1151.7L1218.9 1154.4L1219.3 1157.0L1219.9 1159.7M1224.8 1181.5L1225.5 1184.2L1226.2 1186.8L1227.0 1189.4L1227.8 1191.9L1228.6 1194.5L1229.4 1197.1L1230.3 1199.7L1231.2 1202.2L1232.2 1204.7M1242.0 1224.8L1243.5 1227.1L1245.2 1229.2L1246.9 1231.3L1248.8 1233.2L1250.8 1235.0L1253.0 1236.6L1255.4 1237.8L1258.0 1238.7L1260.7 1239.1M1278.8 1227.5L1280.3 1225.3L1281.8 1223.0L1283.1 1220.6L1284.4 1218.3L1285.6 1215.9L1286.8 1213.4L1287.9 1210.9L1289.0 1208.5L1290.0 1205.9M1296.9 1184.7L1297.6 1182.1L1298.3 1179.4L1299.0 1176.8L1299.6 1174.2L1300.2 1171.5L1300.8 1168.9L1301.4 1166.3L1302.0 1163.6L1302.5 1161.0M1306.3 1138.9L1306.7 1136.2L1307.1 1133.5L1307.4 1130.9L1307.8 1128.2L1308.1 1125.5L1308.4 1122.8L1308.8 1120.1L1309.1 1117.4L1309.3 1114.7M1311.3 1092.4L1311.5 1089.7L1311.6 1087.0L1311.8 1084.3L1312.0 1081.6L1312.1 1078.9L1312.2 1076.2L1312.4 1073.5L1312.5 1070.8L1312.6 1068.1" fill="none" stroke="#000" stroke-width="4.2"/>
<rect x="234.0" y="777.0" width="1158.0" height="495.3" fill="none" stroke="#000" stroke-width="7"/>
<path d="M465.6 1269.3V1265.6M697.2 1269.3V1265.6M928.8 1269.3V1265.6M1160.4 1269.3V1265.6" stroke="#000" stroke-width="7.0" fill="none"/>
<path d="M465.6 774.0V771.0M697.2 774.0V771.0M928.8 774.0V771.0M1160.4 774.0V771.0" stroke="#000" stroke-width="7" fill="none"/>
<path d="M237.0 900.8h3.5M237.0 1024.7h3.5M237.0 1148.5h3.5" stroke="#000" stroke-width="4" fill="none"/>
<g font-family="'Liberation Serif','Times New Roman',serif" font-weight="bold" font-size="54.0" fill="#000"><text x="139.66" y="792.8">100</text><text transform="translate(106.49 792.8) scale(1.15 1)">−</text><text x="139.58" y="916.6">105</text><text transform="translate(106.41 916.6) scale(1.15 1)">−</text><text x="139.66" y="1040.5">110</text><text transform="translate(106.49 1040.5) scale(1.15 1)">−</text><text x="139.58" y="1164.3">115</text><text transform="translate(106.41 1164.3) scale(1.15 1)">−</text><text x="139.66" y="1288.1">120</text><text transform="translate(106.49 1288.1) scale(1.15 1)">−</text><text x="222.43" y="1318.7">46</text><text transform="translate(188.66 1318.7) scale(1.15 1)">−</text><text x="453.74" y="1318.7">44</text><text transform="translate(419.97 1318.7) scale(1.15 1)">−</text><text x="686.00" y="1318.7">42</text><text transform="translate(652.23 1318.7) scale(1.15 1)">−</text><text x="917.47" y="1318.7">40</text><text transform="translate(883.70 1318.7) scale(1.15 1)">−</text><text x="1148.93" y="1318.7">38</text><text transform="translate(1115.17 1318.7) scale(1.15 1)">−</text><text x="1380.43" y="1318.7">36</text><text transform="translate(1346.66 1318.7) scale(1.15 1)">−</text></g>
<text transform="translate(98.7 1039.2) rotate(-90) scale(1 1.07)" text-anchor="middle" font-family="'Liberation Serif','Times New Roman',serif" font-weight="bold" font-size="61" fill="#000">N (m)</text>
<rect x="635.9" y="690.2" width="757.2" height="77.8" fill="#fff" stroke="#111" stroke-width="1.6"/>
<circle cx="705.1" cy="728.9" r="9.6" fill="#666666"/>
<path d="M1057.5 735.7L1067.3 718.9L1077.0 735.7Z" fill="#EF9739"/>
<g font-family="'Liberation Serif','Times New Roman',serif" font-size="54.8" fill="#000"><text x="781.7" y="746.0">Reference</text><text x="1143.1" y="746.0">MCC-EKF</text></g>
<path d="M465.6 1922.9V1426.3M697.2 1922.9V1426.3M928.8 1922.9V1426.3M1160.4 1922.9V1426.3" stroke="#7d7d7d" stroke-width="1.35" stroke-dasharray="8.2 7.2" fill="none"/>
<path d="M234.0 1550.5H1392.0M234.0 1674.6H1392.0M234.0 1798.8H1392.0" stroke="#7d7d7d" stroke-width="1.35" stroke-dasharray="8.2 7.2" fill="none"/>
<g fill="#666666"><circle cx="325.8" cy="1505.5" r="9.6"/><circle cx="348.5" cy="1496.3" r="9.6"/><circle cx="378.9" cy="1486.9" r="9.6"/><circle cx="416.5" cy="1478.3" r="9.6"/><circle cx="458.4" cy="1469.7" r="9.6"/><circle cx="506.3" cy="1464.5" r="9.6"/><circle cx="555.1" cy="1459.0" r="9.6"/><circle cx="608.5" cy="1455.0" r="9.6"/><circle cx="662.9" cy="1452.0" r="9.6"/><circle cx="717.5" cy="1450.8" r="9.6"/><circle cx="774.9" cy="1449.5" r="9.6"/><circle cx="829.5" cy="1450.8" r="9.6"/><circle cx="884.4" cy="1452.0" r="9.6"/><circle cx="938.5" cy="1455.0" r="9.6"/><circle cx="992.1" cy="1457.5" r="9.6"/><circle cx="1043.8" cy="1463.3" r="9.6"/><circle cx="1090.1" cy="1468.8" r="9.6"/><circle cx="1130.7" cy="1478.6" r="9.6"/><circle cx="1164.2" cy="1488.5" r="9.6"/><circle cx="1184.5" cy="1500.5" r="9.6"/><circle cx="1185.9" cy="1495.7" r="9.6"/><circle cx="1192.2" cy="1503.2" r="9.6"/><circle cx="1198.5" cy="1510.8" r="9.6"/><circle cx="1200.8" cy="1518.3" r="9.6"/><circle cx="1203.0" cy="1525.8" r="9.6"/><circle cx="1206.0" cy="1533.3" r="9.6"/><circle cx="1209.0" cy="1540.8" r="9.6"/><circle cx="1211.5" cy="1548.3" r="9.6"/><circle cx="1214.0" cy="1555.9" r="9.6"/><circle cx="1216.2" cy="1563.4" r="9.6"/><circle cx="1218.5" cy="1570.9" r="9.6"/><circle cx="1221.5" cy="1578.4" r="9.6"/><circle cx="1224.5" cy="1585.9" r="9.6"/><circle cx="1226.0" cy="1593.4" r="9.6"/><circle cx="1227.5" cy="1601.0" r="9.6"/><circle cx="1229.2" cy="1608.5" r="9.6"/><circle cx="1231.0" cy="1616.0" r="9.6"/><circle cx="1233.5" cy="1623.5" r="9.6"/><circle cx="1236.0" cy="1631.0" r="9.6"/><circle cx="1239.0" cy="1638.5" r="9.6"/><circle cx="1242.0" cy="1646.1" r="9.6"/><circle cx="1244.3" cy="1653.6" r="9.6"/><circle cx="1246.6" cy="1661.1" r="9.6"/><circle cx="1250.3" cy="1668.6" r="9.6"/><circle cx="1254.1" cy="1676.0" r="9.6"/><circle cx="1255.5" cy="1680.6" r="9.6"/><circle cx="1257.8" cy="1688.1" r="9.6"/><circle cx="1260.0" cy="1695.6" r="9.6"/><circle cx="1261.8" cy="1703.2" r="9.6"/><circle cx="1263.6" cy="1710.7" r="9.6"/><circle cx="1265.3" cy="1718.2" r="9.6"/><circle cx="1267.1" cy="1725.7" r="9.6"/><circle cx="1269.3" cy="1733.2" r="9.6"/><circle cx="1271.6" cy="1740.7" r="9.6"/><circle cx="1273.8" cy="1748.3" r="9.6"/><circle cx="1276.1" cy="1755.8" r="9.6"/><circle cx="1278.1" cy="1763.3" r="9.6"/><circle cx="1280.1" cy="1770.8" r="9.6"/><circle cx="1282.3" cy="1778.3" r="9.6"/><circle cx="1284.6" cy="1785.8" r="9.6"/><circle cx="1286.3" cy="1793.4" r="9.6"/><circle cx="1288.1" cy="1800.9" r="9.6"/><circle cx="1288.1" cy="1808.4" r="9.6"/><circle cx="1288.1" cy="1815.9" r="9.6"/><circle cx="1286.3" cy="1820.9" r="9.6"/><circle cx="1278.2" cy="1829.9" r="9.6"/><circle cx="1259.1" cy="1842.0" r="9.6"/><circle cx="1224.9" cy="1850.6" r="9.6"/><circle cx="1179.8" cy="1857.7" r="9.6"/><circle cx="1128.2" cy="1862.0" r="9.6"/><circle cx="1074.8" cy="1866.2" r="9.6"/><circle cx="1020.0" cy="1867.7" r="9.6"/><circle cx="965.3" cy="1870.2" r="9.6"/><circle cx="912.2" cy="1873.2" r="9.6"/><circle cx="857.6" cy="1874.5" r="9.6"/><circle cx="803.2" cy="1877.5" r="9.6"/><circle cx="748.6" cy="1878.7" r="9.6"/><circle cx="693.7" cy="1881.2" r="9.6"/><circle cx="639.1" cy="1882.7" r="9.6"/><circle cx="581.9" cy="1884.0" r="9.6"/><circle cx="527.1" cy="1885.7" r="9.6"/><circle cx="471.3" cy="1884.2" r="9.6"/><circle cx="420.8" cy="1878.2" r="9.6"/><circle cx="377.4" cy="1871.7" r="9.6"/><circle cx="342.5" cy="1864.6" r="9.6"/><circle cx="315.8" cy="1852.6" r="9.6"/><circle cx="299.1" cy="1841.4" r="9.6"/><circle cx="290.5" cy="1825.9" r="9.6"/><circle cx="289.2" cy="1819.5" r="9.6"/><circle cx="287.9" cy="1813.1" r="9.6"/><circle cx="286.9" cy="1806.7" r="9.6"/><circle cx="285.8" cy="1800.2" r="9.6"/><circle cx="285.6" cy="1793.8" r="9.6"/><circle cx="285.3" cy="1787.3" r="9.6"/><circle cx="285.3" cy="1780.9" r="9.6"/><circle cx="285.3" cy="1774.4" r="9.6"/><circle cx="285.3" cy="1768.0" r="9.6"/><circle cx="285.3" cy="1761.6" r="9.6"/><circle cx="285.3" cy="1755.1" r="9.6"/><circle cx="285.3" cy="1748.6" r="9.6"/><circle cx="285.3" cy="1742.2" r="9.6"/><circle cx="285.3" cy="1735.7" r="9.6"/><circle cx="285.8" cy="1729.3" r="9.6"/><circle cx="286.2" cy="1722.9" r="9.6"/><circle cx="286.6" cy="1716.5" r="9.6"/><circle cx="287.1" cy="1710.0" r="9.6"/><circle cx="288.4" cy="1703.6" r="9.6"/><circle cx="289.6" cy="1697.1" r="9.6"/><circle cx="290.2" cy="1690.7" r="9.6"/><circle cx="290.9" cy="1684.2" r="9.6"/><circle cx="292.4" cy="1675.1" r="9.6"/><circle cx="294.0" cy="1666.1" r="9.6"/><circle cx="295.3" cy="1659.6" r="9.6"/><circle cx="296.6" cy="1653.2" r="9.6"/><circle cx="297.7" cy="1646.7" r="9.6"/><circle cx="298.8" cy="1640.3" r="9.6"/><circle cx="299.9" cy="1633.9" r="9.6"/><circle cx="300.9" cy="1627.5" r="9.6"/><circle cx="302.4" cy="1621.0" r="9.6"/><circle cx="303.9" cy="1614.6" r="9.6"/><circle cx="305.2" cy="1608.1" r="9.6"/><circle cx="306.5" cy="1601.7" r="9.6"/><circle cx="308.0" cy="1595.2" r="9.6"/><circle cx="309.5" cy="1588.7" r="9.6"/><circle cx="309.5" cy="1584.5" r="9.6"/><circle cx="314.9" cy="1580.2" r="9.6"/><circle cx="320.3" cy="1575.9" r="9.6"/><circle cx="319.0" cy="1567.3" r="9.6"/><circle cx="317.5" cy="1560.8" r="9.6"/><circle cx="316.0" cy="1554.4" r="9.6"/><circle cx="314.2" cy="1547.9" r="9.6"/><circle cx="312.5" cy="1541.5" r="9.6"/><circle cx="310.8" cy="1535.1" r="9.6"/><circle cx="309.1" cy="1528.7" r="9.6"/><circle cx="310.8" cy="1522.2" r="9.6"/><circle cx="312.5" cy="1515.7" r="9.6"/><circle cx="319.4" cy="1509.3" r="9.6"/><circle cx="326.3" cy="1502.9" r="9.6"/><circle cx="319.5" cy="1587.7" r="9.6"/><circle cx="318.0" cy="1593.7" r="9.6"/><circle cx="316.5" cy="1599.7" r="9.6"/><circle cx="314.8" cy="1605.7" r="9.6"/><circle cx="313.0" cy="1611.7" r="9.6"/></g>
<path d="M333.9 1516.2L344.5 1498.1L355.1 1516.2ZM355.5 1505.6L366.1 1487.5L376.7 1505.6ZM386.6 1495.9L397.2 1477.8L407.8 1495.9ZM424.2 1487.3L434.8 1469.2L445.4 1487.3ZM465.6 1478.7L476.2 1460.6L486.8 1478.7ZM512.0 1473.5L522.6 1455.4L533.2 1473.5ZM560.8 1467.3L571.4 1449.2L582.0 1467.3ZM613.9 1463.5L624.5 1445.4L635.1 1463.5ZM668.0 1460.5L678.6 1442.4L689.2 1460.5ZM723.7 1458.5L734.3 1440.4L744.9 1458.5ZM780.0 1458.0L790.6 1439.9L801.2 1458.0ZM834.2 1459.8L844.8 1441.7L855.4 1459.8ZM890.8 1461.0L901.4 1442.9L912.0 1461.0ZM944.7 1464.0L955.3 1445.9L965.9 1464.0ZM998.6 1466.8L1009.2 1448.7L1019.8 1466.8ZM1049.4 1472.3L1060.0 1454.2L1070.6 1472.3ZM1097.0 1479.2L1107.6 1461.1L1118.2 1479.2ZM1137.4 1486.7L1148.0 1468.6L1158.6 1486.7ZM1171.1 1495.9L1181.7 1477.8L1192.3 1495.9ZM1193.5 1506.2L1204.1 1488.1L1214.7 1506.2ZM1205.0 1519.3L1215.6 1501.2L1226.2 1519.3ZM1211.2 1530.3L1221.8 1512.2L1232.4 1530.3ZM1213.5 1541.3L1224.1 1523.2L1234.7 1541.3ZM1218.0 1553.8L1228.6 1535.7L1239.2 1553.8ZM1221.7 1565.4L1232.3 1547.3L1242.9 1565.4ZM1226.0 1577.9L1236.6 1559.8L1247.2 1577.9ZM1229.0 1589.4L1239.6 1571.3L1250.2 1589.4ZM1232.8 1601.4L1243.4 1583.3L1254.0 1601.4ZM1235.8 1612.5L1246.4 1594.4L1257.0 1612.5ZM1239.3 1625.5L1249.9 1607.4L1260.5 1625.5ZM1243.6 1637.5L1254.2 1619.4L1264.8 1637.5ZM1246.6 1649.5L1257.2 1631.4L1267.8 1649.5ZM1250.6 1661.6L1261.2 1643.5L1271.8 1661.6ZM1255.6 1673.6L1266.2 1655.5L1276.8 1673.6ZM1261.1 1683.7L1271.7 1665.6L1282.3 1683.7ZM1265.8 1694.7L1276.4 1676.6L1287.0 1694.7ZM1269.3 1707.8L1279.9 1689.7L1290.5 1707.8ZM1273.1 1719.8L1283.7 1701.7L1294.3 1719.8ZM1276.6 1731.3L1287.2 1713.2L1297.8 1731.3ZM1280.3 1744.3L1290.9 1726.2L1301.5 1744.3ZM1283.3 1754.9L1293.9 1736.8L1304.5 1754.9ZM1286.3 1766.4L1296.9 1748.3L1307.5 1766.4ZM1290.1 1778.9L1300.7 1760.8L1311.3 1778.9ZM1293.3 1791.4L1303.9 1773.3L1314.5 1791.4ZM1295.8 1803.0L1306.4 1784.9L1317.0 1803.0ZM1297.3 1815.0L1307.9 1796.9L1318.5 1815.0ZM1297.8 1826.5L1308.4 1808.4L1319.0 1826.5ZM1289.1 1839.5L1299.7 1821.4L1310.3 1839.5ZM1267.8 1850.1L1278.4 1832.0L1289.0 1850.1ZM1234.5 1859.6L1245.1 1841.5L1255.7 1859.6ZM1191.9 1867.7L1202.5 1849.6L1213.1 1867.7ZM1138.4 1872.3L1149.0 1854.2L1159.6 1872.3ZM1085.0 1874.8L1095.6 1856.7L1106.2 1874.8ZM1031.2 1877.3L1041.8 1859.2L1052.4 1877.3ZM976.8 1879.1L987.4 1861.0L998.0 1879.1ZM922.2 1881.8L932.8 1863.7L943.4 1881.8ZM867.5 1883.6L878.1 1865.5L888.7 1883.6ZM813.2 1886.1L823.8 1868.0L834.4 1886.1ZM759.3 1887.8L769.9 1869.7L780.5 1887.8ZM704.4 1890.3L715.0 1872.2L725.6 1890.3ZM649.3 1891.8L659.9 1873.7L670.5 1891.8ZM592.6 1893.1L603.2 1875.0L613.8 1893.1ZM536.5 1894.8L547.1 1876.7L557.7 1894.8ZM482.1 1893.3L492.7 1875.2L503.3 1893.3ZM431.3 1889.4L441.9 1871.3L452.5 1889.4ZM387.2 1881.9L397.8 1863.8L408.4 1881.9ZM351.4 1874.7L362.0 1856.6L372.6 1874.7ZM326.5 1861.7L337.1 1843.6L347.7 1861.7ZM308.2 1849.2L318.8 1831.1L329.4 1849.2ZM298.4 1837.6L309.0 1819.5L319.6 1837.6ZM295.5 1826.5L306.1 1808.4L316.7 1826.5ZM294.2 1814.0L304.8 1795.9L315.4 1814.0ZM294.2 1803.3L304.8 1785.2L315.4 1803.3ZM293.0 1789.9L303.6 1771.8L314.2 1789.9ZM293.6 1778.8L304.2 1760.7L314.8 1778.8ZM293.6 1766.3L304.2 1748.2L314.8 1766.3ZM294.2 1755.1L304.8 1737.0L315.4 1755.1ZM294.2 1742.7L304.8 1724.6L315.4 1742.7ZM295.4 1731.5L306.0 1713.4L316.6 1731.5ZM296.5 1719.1L307.1 1701.0L317.7 1719.1ZM297.7 1706.2L308.3 1688.1L318.9 1706.2ZM297.9 1695.0L308.5 1676.9L319.1 1695.0ZM299.7 1683.8L310.3 1665.7L320.9 1683.8ZM300.6 1671.2L311.2 1653.1L321.8 1671.2ZM303.2 1660.1L313.8 1642.0L324.4 1660.1ZM306.0 1647.2L316.6 1629.1L327.2 1647.2ZM308.1 1635.2L318.7 1617.1L329.3 1635.2ZM309.8 1623.6L320.4 1605.5L331.0 1623.6ZM312.4 1611.1L323.0 1593.0L333.6 1611.1ZM316.7 1599.9L327.3 1581.8L337.9 1599.9ZM322.3 1647.2L332.9 1629.1L343.5 1647.2ZM323.6 1635.2L334.2 1617.1L344.8 1635.2ZM326.2 1623.6L336.8 1605.5L347.4 1623.6ZM327.4 1611.1L338.0 1593.0L348.6 1611.1ZM329.2 1599.9L339.8 1581.8L350.4 1599.9ZM328.3 1587.5L338.9 1569.4L349.5 1587.5ZM327.0 1575.9L337.6 1557.8L348.2 1575.9ZM324.4 1563.4L335.0 1545.3L345.6 1563.4ZM320.8 1552.3L331.4 1534.2L342.0 1552.3ZM316.5 1540.2L327.1 1522.1L337.7 1540.2ZM319.7 1528.6L330.3 1510.5L340.9 1528.6Z" fill="#1B3E8E"/>
<path d="M387.7 1698.5L387.7 1695.9L387.7 1693.3L387.7 1690.6L387.7 1688.0L387.6 1685.4L387.6 1682.8L387.5 1680.2L387.5 1677.5L387.4 1674.9L387.3 1672.3L387.2 1669.7L387.1 1667.1L387.0 1664.4L386.8 1661.8M385.2 1639.5L384.9 1636.8L384.7 1634.1L384.4 1631.4L384.1 1628.7L383.7 1626.0L383.4 1623.3L383.1 1620.7L382.7 1618.0L382.3 1615.3M378.6 1593.2L378.1 1590.6L377.5 1587.9L377.0 1585.3L376.4 1582.6L375.8 1580.0L375.1 1577.4L374.5 1574.7L373.8 1572.1L373.1 1569.5M366.5 1548.1L365.6 1545.6L364.6 1543.0L363.6 1540.5L362.6 1538.0L361.5 1535.5L360.4 1533.1L359.3 1530.6L358.1 1528.2L356.8 1525.8M344.3 1507.3L342.4 1505.3L340.5 1503.5L338.4 1501.7L336.2 1500.1L334.0 1498.6L331.6 1497.4L329.1 1496.4L326.5 1495.6L323.8 1495.1M303.3 1502.4L301.3 1504.2L299.4 1506.2L297.5 1508.2L295.8 1510.2L294.1 1512.4L292.6 1514.6L291.0 1516.8L289.6 1519.1L288.2 1521.4M278.6 1541.6L277.6 1544.1L276.6 1546.7L275.7 1549.2L274.8 1551.8L274.0 1554.3L273.1 1556.9L272.3 1559.5L271.5 1562.1L270.8 1564.7M265.4 1586.4L264.8 1589.1L264.3 1591.7L263.8 1594.4L263.3 1597.0L262.8 1599.7L262.3 1602.3L261.9 1605.0L261.4 1607.7L261.0 1610.4M258.1 1632.6L257.8 1635.3L257.6 1637.9L257.3 1640.6L257.1 1643.3L256.8 1646.0L256.6 1648.7L256.4 1651.4L256.2 1654.1L256.0 1656.8M255.1 1679.2L255.0 1681.9L255.0 1684.6L254.9 1687.3L254.9 1690.0L254.9 1692.7L254.9 1695.4L254.9 1698.1L254.9 1700.8L255.0 1703.5M255.8 1725.9L255.9 1728.6L256.1 1731.3L256.3 1734.0L256.5 1736.7L256.7 1739.4L256.9 1742.1L257.2 1744.8L257.4 1747.5L257.7 1750.2M260.4 1772.4L260.8 1775.1L261.2 1777.8L261.6 1780.5L262.1 1783.1L262.5 1785.8L263.0 1788.5L263.5 1791.1L264.0 1793.8L264.5 1796.4M269.6 1818.2L270.4 1820.8L271.1 1823.4L271.9 1826.0L272.7 1828.6L273.5 1831.2L274.3 1833.8L275.2 1836.3L276.1 1838.9L277.0 1841.4M286.1 1861.9L287.4 1864.2L288.8 1866.6L290.2 1868.9L291.7 1871.2L293.2 1873.4L294.8 1875.6L296.5 1877.7L298.3 1879.7L300.2 1881.7M319.5 1891.9L322.3 1892.0L324.9 1891.7L327.6 1891.1L330.1 1890.2L332.6 1889.1L334.9 1887.8L337.2 1886.2L339.3 1884.6L341.3 1882.8M354.8 1864.9L356.1 1862.6L357.4 1860.2L358.6 1857.8L359.7 1855.3L360.9 1852.9L362.0 1850.4L363.0 1847.9L364.0 1845.4L365.0 1842.9M372.0 1821.6L372.7 1819.0L373.4 1816.4L374.1 1813.8L374.8 1811.2L375.4 1808.5L376.0 1805.9L376.6 1803.2L377.2 1800.6L377.8 1798.0M381.7 1775.9L382.1 1773.2L382.5 1770.6L382.9 1767.9L383.2 1765.2L383.6 1762.5L383.9 1759.8L384.2 1757.1L384.5 1754.4L384.8 1751.8M386.6 1729.4L386.8 1726.7L386.9 1724.0L387.0 1721.3L387.2 1718.6L387.3 1715.9L387.4 1713.2L387.5 1710.5L387.5 1707.8L387.6 1705.1" fill="none" stroke="#000" stroke-width="4.2"/>
<path d="M1315.4 1684.8L1315.4 1682.2L1315.4 1679.6L1315.4 1676.9L1315.4 1674.3L1315.4 1671.7L1315.3 1669.1L1315.3 1666.5L1315.2 1663.8L1315.2 1661.2L1315.1 1658.6L1315.0 1656.0L1314.9 1653.3L1314.8 1650.7L1314.7 1648.1M1313.5 1625.7L1313.3 1623.0L1313.1 1620.4L1312.8 1617.7L1312.6 1615.0L1312.3 1612.3L1312.1 1609.6L1311.8 1606.9L1311.5 1604.2L1311.3 1601.5M1308.4 1579.3L1307.9 1576.6L1307.5 1573.9L1307.1 1571.3L1306.6 1568.6L1306.2 1565.9L1305.7 1563.3L1305.2 1560.6L1304.6 1558.0L1304.1 1555.3M1298.9 1533.5L1298.1 1530.9L1297.4 1528.3L1296.6 1525.8L1295.7 1523.2L1294.9 1520.6L1294.0 1518.1L1293.0 1515.5L1292.1 1513.0L1291.0 1510.5M1280.3 1490.9L1278.6 1488.8L1276.8 1486.8L1274.8 1485.0L1272.7 1483.3L1270.3 1481.9L1267.8 1480.9L1265.2 1480.4L1262.5 1480.4L1259.8 1480.9M1243.7 1495.8L1242.4 1498.1L1241.1 1500.5L1239.8 1502.9L1238.6 1505.3L1237.5 1507.8L1236.5 1510.3L1235.4 1512.8L1234.5 1515.3L1233.5 1517.8M1227.0 1539.2L1226.3 1541.9L1225.7 1544.5L1225.1 1547.1L1224.5 1549.8L1223.9 1552.4L1223.4 1555.1L1222.8 1557.7L1222.3 1560.4L1221.8 1563.0M1218.2 1585.1L1217.8 1587.8L1217.5 1590.5L1217.1 1593.2L1216.8 1595.9L1216.5 1598.5L1216.2 1601.2L1215.9 1603.9L1215.6 1606.6L1215.3 1609.3M1213.5 1631.6L1213.4 1634.3L1213.2 1637.0L1213.1 1639.7L1212.9 1642.4L1212.8 1645.1L1212.7 1647.8L1212.6 1650.5L1212.5 1653.3L1212.4 1656.0M1212.0 1678.4L1212.0 1681.1L1212.0 1683.8L1212.0 1686.5L1212.1 1689.2L1212.1 1691.9L1212.1 1694.6L1212.2 1697.3L1212.3 1700.0L1212.3 1702.7M1213.3 1725.1L1213.5 1727.8L1213.7 1730.5L1213.9 1733.2L1214.1 1735.9L1214.3 1738.6L1214.5 1741.3L1214.7 1744.0L1215.0 1746.7L1215.2 1749.4M1217.8 1771.6L1218.2 1774.3L1218.5 1777.0L1218.9 1779.6L1219.3 1782.3L1219.8 1785.0L1220.2 1787.7L1220.7 1790.3L1221.1 1793.0L1221.6 1795.7M1226.3 1817.6L1227.0 1820.2L1227.6 1822.8L1228.4 1825.4L1229.1 1828.0L1229.9 1830.6L1230.6 1833.2L1231.5 1835.8L1232.3 1838.3L1233.2 1840.9M1242.3 1861.3L1243.6 1863.7L1245.1 1866.0L1246.7 1868.2L1248.3 1870.3L1250.1 1872.3L1252.1 1874.2L1254.2 1875.9L1256.5 1877.3L1258.9 1878.4M1278.5 1871.0L1280.2 1868.9L1281.8 1866.7L1283.3 1864.4L1284.7 1862.1L1286.0 1859.7L1287.3 1857.3L1288.5 1854.9L1289.6 1852.5L1290.7 1850.0M1298.1 1828.8L1298.8 1826.2L1299.5 1823.6L1300.2 1821.0L1300.9 1818.4L1301.5 1815.8L1302.2 1813.1L1302.8 1810.5L1303.3 1807.9L1303.9 1805.2M1307.9 1783.2L1308.3 1780.5L1308.7 1777.8L1309.1 1775.1L1309.5 1772.5L1309.8 1769.8L1310.2 1767.1L1310.5 1764.4L1310.8 1761.7L1311.1 1759.0M1313.2 1736.7L1313.5 1734.0L1313.6 1731.3L1313.8 1728.6L1314.0 1725.9L1314.2 1723.2L1314.3 1720.5L1314.5 1717.8L1314.6 1715.1L1314.7 1712.4M1315.3 1690.0L1315.4 1688.4L1315.4 1686.8" fill="none" stroke="#000" stroke-width="4.2"/>
<path d="M234.0 1922.9V1426.3H1392.0" fill="none" stroke="#000" stroke-width="7" stroke-linecap="square"/>
<path d="M234.0 1922.9H1392.0V1426.3" fill="none" stroke="#000" stroke-width="4.2" stroke-linecap="square"/>
<path d="M465.6 1921.3V1917.6M697.2 1921.3V1917.6M928.8 1921.3V1917.6M1160.4 1921.3V1917.6" stroke="#000" stroke-width="4.3" fill="none"/>
<path d="M349.8 1921.3V1919.2M581.4 1921.3V1919.2M813.0 1921.3V1919.2M1044.6 1921.3V1919.2M1276.2 1921.3V1919.2" stroke="#000" stroke-width="4.3" fill="none"/>
<path d="M465.6 1429.3V1431.5M697.2 1429.3V1431.5M928.8 1429.3V1431.5M1160.4 1429.3V1431.5" stroke="#000" stroke-width="7" fill="none"/>
<path d="M237.0 1550.5h3.5M237.0 1674.6h3.5M237.0 1798.8h3.5" stroke="#000" stroke-width="4" fill="none"/>
<g font-family="'Liberation Serif','Times New Roman',serif" font-weight="bold" font-size="54.0" fill="#000"><text x="139.66" y="1442.1">100</text><text transform="translate(106.49 1442.1) scale(1.15 1)">−</text><text x="139.58" y="1566.2">105</text><text transform="translate(106.41 1566.2) scale(1.15 1)">−</text><text x="139.66" y="1690.4">110</text><text transform="translate(106.49 1690.4) scale(1.15 1)">−</text><text x="139.58" y="1814.5">115</text><text transform="translate(106.41 1814.5) scale(1.15 1)">−</text><text x="139.66" y="1938.7">120</text><text transform="translate(106.49 1938.7) scale(1.15 1)">−</text><text x="222.43" y="1969.3">46</text><text transform="translate(188.66 1969.3) scale(1.15 1)">−</text><text x="453.74" y="1969.3">44</text><text transform="translate(419.97 1969.3) scale(1.15 1)">−</text><text x="686.00" y="1969.3">42</text><text transform="translate(652.23 1969.3) scale(1.15 1)">−</text><text x="917.47" y="1969.3">40</text><text transform="translate(883.70 1969.3) scale(1.15 1)">−</text><text x="1148.93" y="1969.3">38</text><text transform="translate(1115.17 1969.3) scale(1.15 1)">−</text><text x="1380.43" y="1969.3">36</text><text transform="translate(1346.66 1969.3) scale(1.15 1)">−</text></g>
<text transform="translate(98.7 1689.1) rotate(-90) scale(1 1.07)" text-anchor="middle" font-family="'Liberation Serif','Times New Roman',serif" font-weight="bold" font-size="61" fill="#000">N (m)</text>
<rect x="590.9" y="1338.2" width="803.4" height="77.9" fill="#fff" stroke="#111" stroke-width="1.6"/>
<circle cx="660.2" cy="1376.4" r="9.6" fill="#666666"/>
<path d="M1012.2 1382.2L1022.0 1365.4L1031.8 1382.2Z" fill="#1B3E8E"/>
<g font-family="'Liberation Serif','Times New Roman',serif" font-size="54.8" fill="#000"><text x="735.3" y="1393.5">Reference</text><text x="1096.7" y="1393.5">MMCC-EKF</text></g>
<path d="M465.6 2579.5V2082.8M697.2 2579.5V2082.8M928.8 2579.5V2082.8M1160.4 2579.5V2082.8" stroke="#7d7d7d" stroke-width="1.35" stroke-dasharray="8.2 7.2" fill="none"/>
<path d="M234.0 2207.0H1392.0M234.0 2331.2H1392.0M234.0 2455.3H1392.0" stroke="#7d7d7d" stroke-width="1.35" stroke-dasharray="8.2 7.2" fill="none"/>
<g fill="#666666"><circle cx="325.8" cy="2162.0" r="9.6"/><circle cx="348.5" cy="2152.8" r="9.6"/><circle cx="378.9" cy="2143.4" r="9.6"/><circle cx="416.5" cy="2134.8" r="9.6"/><circle cx="458.4" cy="2126.2" r="9.6"/><circle cx="506.3" cy="2121.0" r="9.6"/><circle cx="555.1" cy="2115.5" r="9.6"/><circle cx="608.5" cy="2111.5" r="9.6"/><circle cx="662.9" cy="2108.5" r="9.6"/><circle cx="717.5" cy="2107.3" r="9.6"/><circle cx="774.9" cy="2106.0" r="9.6"/><circle cx="829.5" cy="2107.3" r="9.6"/><circle cx="884.4" cy="2108.5" r="9.6"/><circle cx="938.5" cy="2111.5" r="9.6"/><circle cx="992.1" cy="2114.0" r="9.6"/><circle cx="1043.8" cy="2119.8" r="9.6"/><circle cx="1090.1" cy="2125.3" r="9.6"/><circle cx="1130.7" cy="2135.1" r="9.6"/><circle cx="1164.2" cy="2145.0" r="9.6"/><circle cx="1184.5" cy="2157.0" r="9.6"/><circle cx="1185.9" cy="2152.2" r="9.6"/><circle cx="1192.2" cy="2159.8" r="9.6"/><circle cx="1198.5" cy="2167.3" r="9.6"/><circle cx="1200.8" cy="2174.8" r="9.6"/><circle cx="1203.0" cy="2182.3" r="9.6"/><circle cx="1206.0" cy="2189.8" r="9.6"/><circle cx="1209.0" cy="2197.3" r="9.6"/><circle cx="1211.5" cy="2204.9" r="9.6"/><circle cx="1214.0" cy="2212.4" r="9.6"/><circle cx="1216.2" cy="2219.9" r="9.6"/><circle cx="1218.5" cy="2227.4" r="9.6"/><circle cx="1221.5" cy="2234.9" r="9.6"/><circle cx="1224.5" cy="2242.4" r="9.6"/><circle cx="1226.0" cy="2250.0" r="9.6"/><circle cx="1227.5" cy="2257.5" r="9.6"/><circle cx="1229.2" cy="2265.0" r="9.6"/><circle cx="1231.0" cy="2272.5" r="9.6"/><circle cx="1233.5" cy="2280.0" r="9.6"/><circle cx="1236.0" cy="2287.5" r="9.6"/><circle cx="1239.0" cy="2295.1" r="9.6"/><circle cx="1242.0" cy="2302.6" r="9.6"/><circle cx="1244.3" cy="2310.1" r="9.6"/><circle cx="1246.6" cy="2317.6" r="9.6"/><circle cx="1250.3" cy="2325.1" r="9.6"/><circle cx="1254.1" cy="2332.6" r="9.6"/><circle cx="1255.5" cy="2337.2" r="9.6"/><circle cx="1257.8" cy="2344.7" r="9.6"/><circle cx="1260.0" cy="2352.2" r="9.6"/><circle cx="1261.8" cy="2359.8" r="9.6"/><circle cx="1263.6" cy="2367.3" r="9.6"/><circle cx="1265.3" cy="2374.8" r="9.6"/><circle cx="1267.1" cy="2382.3" r="9.6"/><circle cx="1269.3" cy="2389.8" r="9.6"/><circle cx="1271.6" cy="2397.3" r="9.6"/><circle cx="1273.8" cy="2404.8" r="9.6"/><circle cx="1276.1" cy="2412.4" r="9.6"/><circle cx="1278.1" cy="2419.9" r="9.6"/><circle cx="1280.1" cy="2427.4" r="9.6"/><circle cx="1282.3" cy="2434.9" r="9.6"/><circle cx="1284.6" cy="2442.4" r="9.6"/><circle cx="1286.3" cy="2449.9" r="9.6"/><circle cx="1288.1" cy="2457.5" r="9.6"/><circle cx="1288.1" cy="2465.0" r="9.6"/><circle cx="1288.1" cy="2472.5" r="9.6"/><circle cx="1286.3" cy="2477.5" r="9.6"/><circle cx="1278.2" cy="2486.5" r="9.6"/><circle cx="1259.1" cy="2498.6" r="9.6"/><circle cx="1224.9" cy="2507.2" r="9.6"/><circle cx="1179.8" cy="2514.3" r="9.6"/><circle cx="1128.2" cy="2518.6" r="9.6"/><circle cx="1074.8" cy="2522.8" r="9.6"/><circle cx="1020.0" cy="2524.3" r="9.6"/><circle cx="965.3" cy="2526.8" r="9.6"/><circle cx="912.2" cy="2529.8" r="9.6"/><circle cx="857.6" cy="2531.1" r="9.6"/><circle cx="803.2" cy="2534.1" r="9.6"/><circle cx="748.6" cy="2535.3" r="9.6"/><circle cx="693.7" cy="2537.8" r="9.6"/><circle cx="639.1" cy="2539.3" r="9.6"/><circle cx="581.9" cy="2540.6" r="9.6"/><circle cx="527.1" cy="2542.3" r="9.6"/><circle cx="471.3" cy="2540.8" r="9.6"/><circle cx="420.8" cy="2534.8" r="9.6"/><circle cx="377.4" cy="2528.3" r="9.6"/><circle cx="342.5" cy="2521.2" r="9.6"/><circle cx="315.8" cy="2509.2" r="9.6"/><circle cx="299.1" cy="2498.0" r="9.6"/><circle cx="290.5" cy="2482.5" r="9.6"/><circle cx="289.2" cy="2476.1" r="9.6"/><circle cx="287.9" cy="2469.7" r="9.6"/><circle cx="286.9" cy="2463.2" r="9.6"/><circle cx="285.8" cy="2456.8" r="9.6"/><circle cx="285.6" cy="2450.3" r="9.6"/><circle cx="285.3" cy="2443.9" r="9.6"/><circle cx="285.3" cy="2437.4" r="9.6"/><circle cx="285.3" cy="2431.0" r="9.6"/><circle cx="285.3" cy="2424.6" r="9.6"/><circle cx="285.3" cy="2418.2" r="9.6"/><circle cx="285.3" cy="2411.7" r="9.6"/><circle cx="285.3" cy="2405.2" r="9.6"/><circle cx="285.3" cy="2398.8" r="9.6"/><circle cx="285.3" cy="2392.3" r="9.6"/><circle cx="285.8" cy="2385.9" r="9.6"/><circle cx="286.2" cy="2379.5" r="9.6"/><circle cx="286.6" cy="2373.1" r="9.6"/><circle cx="287.1" cy="2366.6" r="9.6"/><circle cx="288.4" cy="2360.2" r="9.6"/><circle cx="289.6" cy="2353.7" r="9.6"/><circle cx="290.2" cy="2347.2" r="9.6"/><circle cx="290.9" cy="2340.8" r="9.6"/><circle cx="292.4" cy="2331.7" r="9.6"/><circle cx="294.0" cy="2322.6" r="9.6"/><circle cx="295.3" cy="2316.2" r="9.6"/><circle cx="296.6" cy="2309.7" r="9.6"/><circle cx="297.7" cy="2303.2" r="9.6"/><circle cx="298.8" cy="2296.8" r="9.6"/><circle cx="299.9" cy="2290.4" r="9.6"/><circle cx="300.9" cy="2284.0" r="9.6"/><circle cx="302.4" cy="2277.6" r="9.6"/><circle cx="303.9" cy="2271.1" r="9.6"/><circle cx="305.2" cy="2264.7" r="9.6"/><circle cx="306.5" cy="2258.2" r="9.6"/><circle cx="308.0" cy="2251.7" r="9.6"/><circle cx="309.5" cy="2245.2" r="9.6"/><circle cx="309.5" cy="2241.0" r="9.6"/><circle cx="314.9" cy="2236.7" r="9.6"/><circle cx="320.3" cy="2232.4" r="9.6"/><circle cx="319.0" cy="2223.8" r="9.6"/><circle cx="317.5" cy="2217.4" r="9.6"/><circle cx="316.0" cy="2210.9" r="9.6"/><circle cx="314.2" cy="2204.5" r="9.6"/><circle cx="312.5" cy="2198.0" r="9.6"/><circle cx="310.8" cy="2191.6" r="9.6"/><circle cx="309.1" cy="2185.2" r="9.6"/><circle cx="310.8" cy="2178.7" r="9.6"/><circle cx="312.5" cy="2172.2" r="9.6"/><circle cx="319.4" cy="2165.8" r="9.6"/><circle cx="326.3" cy="2159.4" r="9.6"/><circle cx="319.5" cy="2244.2" r="9.6"/><circle cx="318.0" cy="2250.2" r="9.6"/><circle cx="316.5" cy="2256.2" r="9.6"/><circle cx="314.8" cy="2262.2" r="9.6"/><circle cx="313.0" cy="2268.2" r="9.6"/></g>
<path d="M323.7 2169.1L334.3 2150.9L344.9 2169.1ZM346.4 2159.9L357.0 2141.8L367.6 2159.9ZM376.8 2150.5L387.4 2132.3L398.0 2150.5ZM414.4 2141.9L425.0 2123.8L435.6 2141.9ZM456.3 2133.3L466.9 2115.2L477.5 2133.3ZM504.2 2128.1L514.8 2109.9L525.4 2128.1ZM553.0 2122.6L563.6 2104.4L574.2 2122.6ZM606.4 2118.6L617.0 2100.4L627.6 2118.6ZM660.8 2115.6L671.4 2097.4L682.0 2115.6ZM715.4 2114.4L726.0 2096.2L736.6 2114.4ZM772.8 2113.1L783.4 2094.9L794.0 2113.1ZM827.4 2114.4L838.0 2096.2L848.6 2114.4ZM882.3 2115.6L892.9 2097.4L903.5 2115.6ZM936.4 2118.6L947.0 2100.4L957.6 2118.6ZM990.0 2121.1L1000.6 2102.9L1011.2 2121.1ZM1041.7 2126.9L1052.3 2108.8L1062.9 2126.9ZM1088.0 2132.4L1098.6 2114.2L1109.2 2132.4ZM1128.6 2142.2L1139.2 2124.1L1149.8 2142.2ZM1162.1 2152.1L1172.7 2133.9L1183.3 2152.1ZM1182.4 2164.1L1193.0 2145.9L1203.6 2164.1ZM1183.8 2159.3L1194.4 2141.2L1205.0 2159.3ZM1191.3 2168.2L1201.9 2150.1L1212.5 2168.2ZM1197.5 2177.9L1208.1 2159.8L1218.7 2177.9ZM1200.8 2189.1L1211.4 2171.0L1222.0 2189.1ZM1205.2 2200.0L1215.8 2181.9L1226.4 2200.0ZM1209.1 2211.0L1219.7 2192.9L1230.3 2211.0ZM1212.7 2222.1L1223.3 2204.0L1233.9 2222.1ZM1216.1 2233.3L1226.7 2215.2L1237.3 2233.3ZM1220.3 2244.2L1230.9 2226.1L1241.5 2244.2ZM1223.6 2255.4L1234.2 2237.3L1244.8 2255.4ZM1225.9 2266.9L1236.5 2248.8L1247.1 2266.9ZM1228.6 2278.3L1239.2 2260.2L1249.8 2278.3ZM1232.2 2289.4L1242.8 2271.3L1253.4 2289.4ZM1236.2 2300.4L1246.8 2282.3L1257.4 2300.4ZM1240.4 2311.3L1251.0 2293.2L1261.6 2311.3ZM1243.8 2322.5L1254.4 2304.4L1265.0 2322.5ZM1248.7 2333.1L1259.3 2315.0L1269.9 2333.1ZM1253.3 2343.8L1263.9 2325.7L1274.5 2343.8ZM1256.6 2355.0L1267.2 2336.9L1277.8 2355.0ZM1259.6 2366.4L1270.2 2348.3L1280.8 2366.4ZM1262.3 2377.7L1272.9 2359.6L1283.5 2377.7ZM1265.0 2389.1L1275.6 2371.0L1286.2 2389.1ZM1268.3 2400.3L1278.9 2382.2L1289.5 2400.3ZM1271.6 2411.6L1282.2 2393.5L1292.8 2411.6ZM1274.9 2422.8L1285.5 2404.7L1296.1 2422.8ZM1277.9 2434.1L1288.5 2416.0L1299.1 2434.1ZM1281.3 2445.3L1291.9 2427.2L1302.5 2445.3ZM1284.2 2456.6L1294.8 2438.5L1305.4 2456.6ZM1286.0 2468.1L1296.6 2450.0L1307.2 2468.1ZM1285.2 2484.6L1295.8 2466.4L1306.4 2484.6ZM1277.1 2493.6L1287.7 2475.4L1298.3 2493.6ZM1258.0 2505.7L1268.6 2487.5L1279.2 2505.7ZM1222.8 2514.2L1233.4 2496.1L1244.0 2514.2ZM1177.7 2521.4L1188.3 2503.2L1198.9 2521.4ZM1126.1 2525.7L1136.7 2507.5L1147.3 2525.7ZM1072.7 2529.9L1083.3 2511.8L1093.9 2529.9ZM1017.9 2531.4L1028.5 2513.2L1039.1 2531.4ZM963.2 2533.9L973.8 2515.8L984.4 2533.9ZM910.1 2536.9L920.7 2518.8L931.3 2536.9ZM855.5 2538.2L866.1 2520.0L876.7 2538.2ZM801.1 2541.2L811.7 2523.0L822.3 2541.2ZM746.5 2542.4L757.1 2524.2L767.7 2542.4ZM691.6 2544.9L702.2 2526.8L712.8 2544.9ZM637.0 2546.4L647.6 2528.2L658.2 2546.4ZM579.8 2547.7L590.4 2529.5L601.0 2547.7ZM525.0 2549.4L535.6 2531.2L546.2 2549.4ZM469.2 2547.9L479.8 2529.8L490.4 2547.9ZM418.7 2541.9L429.3 2523.8L439.9 2541.9ZM308.9 2182.8L319.5 2164.6L330.1 2182.8ZM305.2 2197.0L315.8 2178.8L326.4 2197.0ZM306.9 2207.1L317.5 2188.9L328.1 2207.1ZM311.4 2217.9L322.0 2199.8L332.6 2217.9ZM314.4 2230.4L325.0 2212.2L335.6 2230.4ZM317.2 2241.2L327.8 2223.1L338.4 2241.2ZM316.9 2253.8L327.5 2235.6L338.1 2253.8ZM315.6 2265.5L326.2 2247.3L336.8 2265.5ZM313.9 2277.2L324.5 2259.0L335.1 2277.2ZM312.7 2288.9L323.3 2270.8L333.9 2288.9ZM310.5 2300.5L321.1 2282.3L331.7 2300.5ZM308.9 2253.8L319.5 2235.6L330.1 2253.8ZM306.4 2265.5L317.0 2247.3L327.6 2265.5ZM303.9 2277.2L314.5 2259.0L325.1 2277.2ZM301.4 2288.9L312.0 2270.8L322.6 2288.9ZM298.8 2300.5L309.4 2282.3L320.0 2300.5ZM293.9 2313.9L304.5 2295.8L315.1 2313.9ZM289.3 2326.4L299.9 2308.2L310.5 2326.4ZM287.2 2338.9L297.8 2320.8L308.4 2338.9ZM284.7 2350.6L295.3 2332.4L305.9 2350.6ZM283.5 2362.2L294.1 2344.1L304.7 2362.2ZM281.8 2374.0L292.4 2355.8L303.0 2374.0ZM281.0 2386.4L291.6 2368.3L302.2 2386.4ZM280.5 2398.2L291.1 2380.0L301.7 2398.2ZM280.5 2410.7L291.1 2392.5L301.7 2410.7ZM280.2 2422.4L290.8 2404.2L301.4 2422.4ZM280.5 2434.1L291.1 2415.9L301.7 2434.1ZM280.5 2445.8L291.1 2427.6L301.7 2445.8ZM280.5 2456.6L291.1 2438.4L301.7 2456.6ZM281.0 2468.2L291.6 2450.1L302.2 2468.2ZM281.8 2479.9L292.4 2461.8L303.0 2479.9ZM286.8 2491.7L297.4 2473.5L308.0 2491.7ZM296.0 2504.2L306.6 2486.0L317.2 2504.2ZM313.6 2515.9L324.2 2497.8L334.8 2515.9ZM338.6 2526.7L349.2 2508.5L359.8 2526.7ZM374.5 2535.9L385.1 2517.8L395.7 2535.9Z" fill="#008000"/>
<path d="M387.7 2351.3L387.7 2348.7L387.7 2346.1L387.7 2343.4L387.7 2340.8L387.6 2338.2L387.6 2335.6L387.6 2333.0L387.5 2330.3L387.4 2327.7L387.3 2325.1L387.2 2322.5L387.1 2319.9L387.0 2317.2L386.9 2314.6M385.2 2292.3L384.9 2289.6L384.7 2286.9L384.4 2284.2L384.1 2281.5L383.8 2278.8L383.4 2276.1L383.1 2273.5L382.7 2270.8L382.4 2268.1M378.6 2246.0L378.1 2243.4L377.6 2240.7L377.0 2238.1L376.4 2235.4L375.8 2232.8L375.2 2230.1L374.6 2227.5L373.9 2224.9L373.2 2222.3M366.6 2200.9L365.7 2198.3L364.7 2195.8L363.7 2193.3L362.7 2190.8L361.6 2188.3L360.5 2185.8L359.4 2183.4L358.2 2181.0L356.9 2178.6M344.5 2160.0L342.6 2158.1L340.6 2156.2L338.6 2154.4L336.4 2152.8L334.1 2151.4L331.7 2150.1L329.2 2149.1L326.6 2148.3L324.0 2147.8M303.5 2155.2L301.5 2157.0L299.6 2158.9L297.8 2160.9L296.0 2163.0L294.4 2165.1L292.8 2167.3L291.3 2169.6L289.9 2171.9L288.5 2174.2M278.9 2194.4L277.9 2196.9L276.9 2199.5L276.0 2202.0L275.1 2204.6L274.3 2207.1L273.4 2209.7L272.6 2212.3L271.9 2214.9L271.1 2217.5M265.7 2239.2L265.2 2241.9L264.7 2244.5L264.1 2247.2L263.6 2249.8L263.1 2252.5L262.7 2255.2L262.2 2257.8L261.8 2260.5L261.4 2263.2M258.5 2285.4L258.2 2288.1L257.9 2290.8L257.7 2293.5L257.4 2296.2L257.2 2298.9L257.0 2301.5L256.8 2304.2L256.6 2306.9L256.4 2309.6M255.5 2332.0L255.4 2334.7L255.4 2337.4L255.3 2340.1L255.3 2342.8L255.3 2345.5L255.3 2348.3L255.3 2351.0L255.3 2353.7L255.4 2356.4M256.2 2378.8L256.3 2381.5L256.5 2384.2L256.7 2386.9L256.9 2389.6L257.1 2392.3L257.3 2394.9L257.6 2397.6L257.8 2400.3L258.1 2403.0M260.8 2425.3L261.2 2427.9L261.6 2430.6L262.0 2433.3L262.4 2436.0L262.9 2438.6L263.4 2441.3L263.9 2443.9L264.4 2446.6L264.9 2449.3M270.0 2471.1L270.7 2473.7L271.4 2476.3L272.2 2478.9L273.0 2481.5L273.8 2484.0L274.7 2486.6L275.5 2489.2L276.4 2491.7L277.3 2494.3M286.4 2514.7L287.7 2517.1L289.1 2519.4L290.5 2521.8L292.0 2524.0L293.5 2526.3L295.1 2528.4L296.8 2530.5L298.6 2532.6L300.4 2534.6M319.8 2544.8L322.5 2544.9L325.2 2544.6L327.8 2544.0L330.4 2543.1L332.8 2542.0L335.2 2540.6L337.4 2539.1L339.5 2537.4L341.5 2535.6M354.9 2517.7L356.2 2515.4L357.5 2513.0L358.7 2510.6L359.9 2508.1L361.0 2505.7L362.1 2503.2L363.1 2500.7L364.2 2498.2L365.1 2495.7M372.1 2474.4L372.8 2471.8L373.5 2469.2L374.2 2466.5L374.8 2463.9L375.5 2461.3L376.1 2458.6L376.7 2456.0L377.3 2453.4L377.8 2450.7M381.7 2428.7L382.1 2426.0L382.5 2423.3L382.9 2420.6L383.2 2417.9L383.6 2415.3L383.9 2412.6L384.2 2409.9L384.5 2407.2L384.8 2404.5M386.6 2382.2L386.8 2379.5L386.9 2376.8L387.0 2374.1L387.2 2371.4L387.3 2368.7L387.4 2366.0L387.5 2363.3L387.5 2360.6L387.6 2357.9" fill="none" stroke="#000" stroke-width="4.2"/>
<path d="M1295.2 2335.0L1295.2 2332.4L1295.2 2329.8L1295.2 2327.1L1295.2 2324.5L1295.2 2321.9L1295.2 2319.3L1295.1 2316.7L1295.1 2314.0L1295.0 2311.4L1295.0 2308.8L1294.9 2306.2L1294.8 2303.5L1294.7 2300.9L1294.6 2298.3M1293.3 2275.9L1293.1 2273.2L1292.9 2270.6L1292.6 2267.9L1292.4 2265.2L1292.2 2262.5L1291.9 2259.8L1291.6 2257.1L1291.3 2254.4L1291.0 2251.7M1288.1 2229.5L1287.7 2226.8L1287.3 2224.2L1286.8 2221.5L1286.4 2218.8L1285.9 2216.2L1285.4 2213.5L1284.9 2210.8L1284.3 2208.2L1283.8 2205.5M1278.5 2183.8L1277.7 2181.2L1276.9 2178.6L1276.1 2176.0L1275.3 2173.4L1274.4 2170.9L1273.5 2168.3L1272.5 2165.8L1271.5 2163.3L1270.5 2160.8M1259.5 2141.4L1257.7 2139.3L1255.8 2137.4L1253.8 2135.6L1251.5 2134.1L1249.1 2132.9L1246.5 2132.0L1243.9 2131.7L1241.2 2131.9L1238.6 2132.6M1222.9 2148.1L1221.6 2150.4L1220.3 2152.8L1219.1 2155.2L1217.9 2157.7L1216.8 2160.1L1215.7 2162.6L1214.7 2165.1L1213.8 2167.7L1212.9 2170.2M1206.4 2191.7L1205.8 2194.3L1205.1 2196.9L1204.5 2199.5L1203.9 2202.2L1203.4 2204.8L1202.8 2207.5L1202.3 2210.1L1201.8 2212.8L1201.3 2215.4M1197.7 2237.6L1197.4 2240.2L1197.0 2242.9L1196.7 2245.6L1196.3 2248.3L1196.0 2251.0L1195.7 2253.7L1195.5 2256.4L1195.2 2259.1L1194.9 2261.7M1193.2 2284.1L1193.0 2286.8L1192.8 2289.5L1192.7 2292.2L1192.6 2294.9L1192.4 2297.6L1192.3 2300.3L1192.2 2303.0L1192.1 2305.7L1192.1 2308.4M1191.8 2330.8L1191.8 2333.5L1191.8 2336.2L1191.8 2338.9L1191.8 2341.6L1191.9 2344.3L1191.9 2347.0L1192.0 2349.7L1192.1 2352.4L1192.2 2355.1M1193.3 2377.5L1193.4 2380.2L1193.6 2382.9L1193.8 2385.6L1194.0 2388.3L1194.3 2391.0L1194.5 2393.7L1194.7 2396.4L1195.0 2399.1L1195.3 2401.8M1197.9 2424.0L1198.3 2426.7L1198.7 2429.4L1199.1 2432.0L1199.6 2434.7L1200.0 2437.4L1200.5 2440.1L1200.9 2442.7L1201.4 2445.4L1201.9 2448.0M1206.8 2469.9L1207.5 2472.5L1208.2 2475.1L1209.0 2477.7L1209.7 2480.3L1210.5 2482.9L1211.4 2485.5L1212.2 2488.0L1213.1 2490.6L1214.1 2493.1M1223.7 2513.3L1225.2 2515.5L1226.8 2517.7L1228.5 2519.8L1230.4 2521.8L1232.4 2523.7L1234.5 2525.3L1236.8 2526.7L1239.4 2527.7L1242.0 2528.2M1260.4 2517.4L1262.0 2515.2L1263.5 2512.9L1264.9 2510.6L1266.2 2508.2L1267.4 2505.8L1268.6 2503.4L1269.7 2500.9L1270.8 2498.4L1271.8 2495.9M1278.9 2474.7L1279.6 2472.1L1280.3 2469.5L1281.0 2466.8L1281.6 2464.2L1282.2 2461.6L1282.8 2458.9L1283.4 2456.3L1284.0 2453.6L1284.5 2451.0M1288.4 2428.9L1288.7 2426.3L1289.1 2423.6L1289.5 2420.9L1289.8 2418.2L1290.2 2415.5L1290.5 2412.8L1290.8 2410.2L1291.1 2407.5L1291.4 2404.8M1293.4 2382.5L1293.6 2379.8L1293.8 2377.1L1293.9 2374.4L1294.1 2371.7L1294.2 2369.0L1294.4 2366.3L1294.5 2363.6L1294.6 2360.9L1294.7 2358.1" fill="none" stroke="#000" stroke-width="4.2"/>
<rect x="234.0" y="2082.8" width="1158.0" height="496.7" fill="none" stroke="#000" stroke-width="7"/>
<path d="M465.6 2576.5V2572.8M697.2 2576.5V2572.8M928.8 2576.5V2572.8M1160.4 2576.5V2572.8" stroke="#000" stroke-width="7.0" fill="none"/>
<path d="M465.6 2085.8V2088.0M697.2 2085.8V2088.0M928.8 2085.8V2088.0M1160.4 2085.8V2088.0" stroke="#000" stroke-width="7" fill="none"/>
<path d="M237.0 2207.0h3.5M237.0 2331.2h3.5M237.0 2455.3h3.5" stroke="#000" stroke-width="4" fill="none"/>
<g font-family="'Liberation Serif','Times New Roman',serif" font-weight="bold" font-size="54.0" fill="#000"><text x="142.66" y="2098.6">100</text><text transform="translate(109.49 2098.6) scale(1.15 1)">−</text><text x="142.58" y="2222.8">105</text><text transform="translate(109.41 2222.8) scale(1.15 1)">−</text><text x="142.66" y="2347.0">110</text><text transform="translate(109.49 2347.0) scale(1.15 1)">−</text><text x="142.58" y="2471.1">115</text><text transform="translate(109.41 2471.1) scale(1.15 1)">−</text><text x="142.66" y="2595.3">120</text><text transform="translate(109.49 2595.3) scale(1.15 1)">−</text><text x="222.43" y="2625.9">46</text><text transform="translate(188.66 2625.9) scale(1.15 1)">−</text><text x="453.74" y="2625.9">44</text><text transform="translate(419.97 2625.9) scale(1.15 1)">−</text><text x="686.00" y="2625.9">42</text><text transform="translate(652.23 2625.9) scale(1.15 1)">−</text><text x="917.47" y="2625.9">40</text><text transform="translate(883.70 2625.9) scale(1.15 1)">−</text><text x="1148.93" y="2625.9">38</text><text transform="translate(1115.17 2625.9) scale(1.15 1)">−</text><text x="1380.43" y="2625.9">36</text><text transform="translate(1346.66 2625.9) scale(1.15 1)">−</text></g>
<text transform="translate(98.7 2345.7) rotate(-90) scale(1 1.07)" text-anchor="middle" font-family="'Liberation Serif','Times New Roman',serif" font-weight="bold" font-size="61" fill="#000">N (m)</text>
<rect x="512.3" y="1994.8" width="879.8" height="77.3" fill="#fff" stroke="#111" stroke-width="1.6"/>
<circle cx="582.2" cy="2033.1" r="9.6" fill="#666666"/>
<path d="M933.8 2038.7L943.5 2021.9L953.2 2038.7Z" fill="#008000"/>
<g font-family="'Liberation Serif','Times New Roman',serif" font-size="54.8" fill="#000"><text x="657.3" y="2050.5">Reference</text><text x="1017.7" y="2050.5">MMCC-VBEKF</text></g>
<text transform="translate(791.5 2690.2) scale(1 1.06)" text-anchor="middle" font-family="'Liberation Serif','Times New Roman',serif" font-weight="bold" font-size="61" fill="#000">E (m)</text>
</svg>
</body></html>
